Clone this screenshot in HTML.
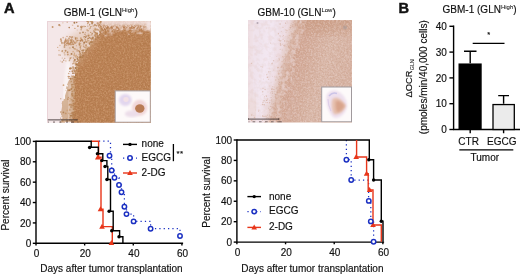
<!DOCTYPE html>
<html lang="en"><head><meta charset="utf-8"><title>Figure</title>
<style>html,body{margin:0;padding:0;background:#fff;}svg{display:block;}text{stroke:#111;stroke-width:0.16px;}</style>
</head><body>
<svg width="520" height="275" viewBox="0 0 520 275" font-family='"Liberation Sans", sans-serif' fill="#111">
<defs>
<filter id="nzA" x="0" y="0" width="100%" height="100%">
  <feTurbulence type="fractalNoise" baseFrequency="0.55" numOctaves="2" seed="3"/>
  <feColorMatrix type="matrix" values="0 0 0 0 0  0 0 0 0 0  0 0 0 0 0  5 0 0 0 -2.3" result="m"/>
  <feComposite in="SourceGraphic" in2="m" operator="in"/>
</filter>
<filter id="nzB" x="0" y="0" width="100%" height="100%">
  <feTurbulence type="fractalNoise" baseFrequency="0.6" numOctaves="2" seed="17"/>
  <feColorMatrix type="matrix" values="0 0 0 0 0  0 0 0 0 0  0 0 0 0 0  0 5 0 0 -2.3" result="m"/>
  <feComposite in="SourceGraphic" in2="m" operator="in"/>
</filter>
<filter id="nzC" x="0" y="0" width="100%" height="100%">
  <feTurbulence type="fractalNoise" baseFrequency="0.22" numOctaves="2" seed="29"/>
  <feColorMatrix type="matrix" values="0 0 0 0 0  0 0 0 0 0  0 0 0 0 0  4 0 0 0 -1.8" result="m"/>
  <feComposite in="SourceGraphic" in2="m" operator="in"/>
</filter>
<filter id="rough" x="-5%" y="-5%" width="110%" height="110%">
  <feTurbulence type="fractalNoise" baseFrequency="0.14" numOctaves="3" seed="11" result="n"/>
  <feDisplacementMap in="SourceGraphic" in2="n" scale="5" xChannelSelector="R" yChannelSelector="G" result="o"/>
  <feGaussianBlur in="o" stdDeviation="0.6"/>
</filter>
<filter id="b1"><feGaussianBlur stdDeviation="1.2"/></filter>
<filter id="b03"><feGaussianBlur stdDeviation="0.35"/></filter>
<filter id="b05"><feGaussianBlur stdDeviation="0.5"/></filter>
<filter id="b3"><feGaussianBlur stdDeviation="3"/></filter>
<filter id="b6"><feGaussianBlur stdDeviation="6"/></filter>
<linearGradient id="g2" gradientUnits="userSpaceOnUse" x1="267.9" y1="67.5" x2="349.3" y2="88.3">
  <stop offset="0" stop-color="#f0e3ec"/>
  <stop offset="0.10" stop-color="#eeddE3"/>
  <stop offset="0.15" stop-color="#e6cfcb"/>
  <stop offset="0.20" stop-color="#dab7a8"/>
  <stop offset="0.30" stop-color="#d3a997"/>
  <stop offset="0.42" stop-color="#d5ae9d"/>
  <stop offset="0.64" stop-color="#dab9aa"/>
  <stop offset="1" stop-color="#d7b3a3"/>
</linearGradient>
<clipPath id="c1"><rect x="47" y="21" width="103.8" height="101.8"/></clipPath>
<clipPath id="c2"><rect x="248" y="20" width="104" height="102.4"/></clipPath>
</defs>
<g clip-path="url(#c1)">
<rect x="47" y="21" width="104" height="102" fill="#f4e7e8"/>
<path d="M47.4 123 V21.4 H151" stroke="#e6cfd4" stroke-width="0.9" fill="none"/>
<path d="M69 60 C67 75 66 90 64 105" stroke="#fbf5f5" stroke-width="5" fill="none" filter="url(#b1)" opacity="0.9"/>
<path d="M60 122 C61 110 63 100 66.5 90 C68 84 70 80 72 76 L76 76 L76 122 Z" fill="#c79a72" filter="url(#rough)" opacity="0.7"/>
<path d="M70.3 84 C69.5 95 69 108 68.4 122" stroke="#f0dcd4" stroke-width="1.5" fill="none" filter="url(#b1)" opacity="0.9"/>
<path d="M98.5 16 L99.5 21 L100.0 30 L99.5 34 L95.0 39 L90.5 44.5 L86.0 50 L83.0 54.6 L79.5 60 L77.0 65 L75.8 70 L75.0 75 L74.0 85 L73.6 96 L73.0 108 L72.5 117 L72.0 127 L156 127 L156 16 Z" fill="#bb8256" filter="url(#rough)"/>
<path d="M98.5 16 L99.5 21 L100.0 30 L99.5 34 L95.0 39 L90.5 44.5 L86.0 50 L83.0 54.6 L79.5 60 L77.0 65 L75.8 70 L75.0 75 L74.0 85 L73.6 96 L73.0 108 L72.5 117 L72.0 127 L156 127 L156 16 Z" fill="#d6a97f" filter="url(#nzA)" opacity="0.4"/>
<path d="M98.5 16 L99.5 21 L100.0 30 L99.5 34 L95.0 39 L90.5 44.5 L86.0 50 L83.0 54.6 L79.5 60 L77.0 65 L75.8 70 L75.0 75 L74.0 85 L73.6 96 L73.0 108 L72.5 117 L72.0 127 L156 127 L156 16 Z" fill="#a8703f" filter="url(#nzB)" opacity="0.4"/>
<path d="M96 19 L152 19 L152 24.5 C135 26 115 26 96 25 Z" fill="#f1dfdc" filter="url(#b1)" opacity="0.85"/>
<path d="M92 21 L151 21 L151 33 C135 35 112 35 92 38 Z" fill="#f0dcd6" filter="url(#nzC)" opacity="0.6"/>
<path d="M92 21 L151 21 L151 29 L92 31 Z" fill="#f0dcd6" filter="url(#nzA)" opacity="0.6"/>
<ellipse cx="149" cy="26" rx="3.2" ry="5" fill="#f4e6e6" filter="url(#b1)" opacity="0.9"/>
<path d="M62 52 C62 40 74 30 98 24 L98 40 C90 48 84 56 80 66 Z" fill="#d9b395" filter="url(#b3)" opacity="0.45"/>
<g filter="url(#b03)"><circle cx="95.3" cy="32.4" r="0.75" fill="#b98558" opacity="0.81"/><circle cx="95.7" cy="39.7" r="0.59" fill="#a97748" opacity="0.97"/><circle cx="83.5" cy="55.8" r="0.88" fill="#a97748" opacity="0.60"/><circle cx="79.6" cy="52.6" r="0.49" fill="#a97748" opacity="0.62"/><circle cx="77.0" cy="69.4" r="0.53" fill="#c4956b" opacity="0.72"/><circle cx="94.9" cy="24.6" r="0.79" fill="#c4956b" opacity="0.82"/><circle cx="72.3" cy="118.0" r="0.53" fill="#cfa47c" opacity="0.73"/><circle cx="72.3" cy="100.0" r="0.54" fill="#a97748" opacity="0.99"/><circle cx="69.7" cy="76.5" r="0.58" fill="#a97748" opacity="0.92"/><circle cx="70.0" cy="89.8" r="0.98" fill="#c4956b" opacity="0.85"/><circle cx="79.1" cy="57.8" r="0.61" fill="#cfa47c" opacity="0.88"/><circle cx="87.9" cy="26.1" r="0.59" fill="#a97748" opacity="0.73"/><circle cx="88.5" cy="47.6" r="0.75" fill="#b98558" opacity="0.76"/><circle cx="95.8" cy="37.2" r="0.45" fill="#cfa47c" opacity="0.61"/><circle cx="68.4" cy="90.2" r="0.95" fill="#a97748" opacity="0.66"/><circle cx="69.2" cy="60.7" r="0.56" fill="#a97748" opacity="0.80"/><circle cx="76.5" cy="41.9" r="0.88" fill="#cfa47c" opacity="0.82"/><circle cx="87.2" cy="21.3" r="0.81" fill="#a97748" opacity="0.95"/><circle cx="70.1" cy="98.4" r="0.76" fill="#cfa47c" opacity="0.92"/><circle cx="66.3" cy="118.6" r="0.51" fill="#c4956b" opacity="0.80"/><circle cx="80.4" cy="40.7" r="0.94" fill="#b98558" opacity="0.99"/><circle cx="60.7" cy="118.2" r="0.66" fill="#b98558" opacity="0.70"/><circle cx="82.4" cy="40.7" r="0.95" fill="#b98558" opacity="0.84"/><circle cx="74.9" cy="28.4" r="0.71" fill="#cfa47c" opacity="0.99"/><circle cx="72.2" cy="107.4" r="0.52" fill="#c4956b" opacity="0.59"/><circle cx="67.2" cy="110.4" r="0.91" fill="#cfa47c" opacity="0.98"/><circle cx="71.8" cy="118.6" r="0.59" fill="#cfa47c" opacity="0.80"/><circle cx="98.6" cy="26.7" r="0.66" fill="#b98558" opacity="0.71"/><circle cx="75.4" cy="78.4" r="0.78" fill="#cfa47c" opacity="0.73"/><circle cx="74.0" cy="95.9" r="0.79" fill="#c4956b" opacity="0.72"/><circle cx="72.9" cy="76.8" r="0.79" fill="#cfa47c" opacity="0.64"/><circle cx="73.8" cy="94.1" r="0.63" fill="#b98558" opacity="0.59"/><circle cx="84.3" cy="53.7" r="0.66" fill="#c4956b" opacity="0.63"/><circle cx="83.7" cy="46.4" r="0.85" fill="#b98558" opacity="0.61"/><circle cx="97.9" cy="37.1" r="0.88" fill="#a97748" opacity="0.90"/><circle cx="94.2" cy="31.7" r="0.89" fill="#b98558" opacity="0.76"/><circle cx="67.7" cy="120.9" r="0.64" fill="#a97748" opacity="0.60"/><circle cx="74.5" cy="105.7" r="0.58" fill="#cfa47c" opacity="0.74"/><circle cx="74.3" cy="110.4" r="0.94" fill="#cfa47c" opacity="0.70"/><circle cx="90.9" cy="38.2" r="0.90" fill="#a97748" opacity="0.65"/><circle cx="99.9" cy="32.0" r="0.72" fill="#a97748" opacity="0.59"/><circle cx="100.4" cy="33.5" r="0.80" fill="#b98558" opacity="0.96"/><circle cx="99.9" cy="25.1" r="0.69" fill="#a97748" opacity="0.62"/><circle cx="91.7" cy="44.4" r="0.83" fill="#cfa47c" opacity="0.79"/><circle cx="76.5" cy="66.9" r="0.90" fill="#c4956b" opacity="0.85"/><circle cx="67.2" cy="22.3" r="0.71" fill="#c4956b" opacity="0.64"/><circle cx="84.9" cy="52.8" r="0.83" fill="#b98558" opacity="0.89"/><circle cx="73.3" cy="100.0" r="0.60" fill="#c4956b" opacity="0.58"/><circle cx="70.9" cy="68.5" r="0.86" fill="#c4956b" opacity="0.89"/><circle cx="62.4" cy="50.8" r="0.77" fill="#b98558" opacity="0.65"/><circle cx="71.6" cy="84.8" r="0.84" fill="#c4956b" opacity="0.65"/><circle cx="97.1" cy="35.8" r="0.83" fill="#b98558" opacity="0.98"/><circle cx="84.5" cy="47.2" r="0.52" fill="#a97748" opacity="0.62"/><circle cx="80.6" cy="43.4" r="0.69" fill="#cfa47c" opacity="0.84"/><circle cx="90.5" cy="45.7" r="0.58" fill="#cfa47c" opacity="1.00"/><circle cx="62.2" cy="58.0" r="0.52" fill="#b98558" opacity="0.73"/><circle cx="73.6" cy="112.5" r="0.72" fill="#a97748" opacity="0.66"/><circle cx="100.7" cy="27.4" r="0.70" fill="#cfa47c" opacity="0.95"/><circle cx="95.3" cy="32.6" r="0.70" fill="#a97748" opacity="0.85"/><circle cx="77.7" cy="57.2" r="0.78" fill="#cfa47c" opacity="0.78"/><circle cx="87.7" cy="41.6" r="0.78" fill="#cfa47c" opacity="0.77"/><circle cx="75.2" cy="91.3" r="0.77" fill="#c4956b" opacity="0.91"/><circle cx="92.5" cy="22.2" r="0.91" fill="#a97748" opacity="0.85"/><circle cx="74.1" cy="90.7" r="0.81" fill="#a97748" opacity="0.79"/><circle cx="91.4" cy="39.6" r="0.59" fill="#c4956b" opacity="0.70"/><circle cx="71.1" cy="99.8" r="0.54" fill="#a97748" opacity="0.93"/><circle cx="74.4" cy="71.9" r="0.64" fill="#cfa47c" opacity="0.92"/><circle cx="75.7" cy="82.4" r="0.73" fill="#cfa47c" opacity="0.62"/><circle cx="81.2" cy="27.5" r="0.96" fill="#b98558" opacity="0.75"/><circle cx="72.1" cy="88.4" r="0.96" fill="#c4956b" opacity="0.62"/><circle cx="80.9" cy="38.3" r="0.93" fill="#cfa47c" opacity="1.00"/><circle cx="75.8" cy="75.2" r="0.67" fill="#a97748" opacity="0.96"/><circle cx="75.9" cy="78.2" r="0.48" fill="#c4956b" opacity="0.73"/><circle cx="77.0" cy="40.3" r="0.61" fill="#c4956b" opacity="0.79"/><circle cx="59.2" cy="24.9" r="0.98" fill="#b98558" opacity="0.94"/><circle cx="70.0" cy="104.4" r="0.86" fill="#c4956b" opacity="0.94"/><circle cx="79.4" cy="44.4" r="0.83" fill="#a97748" opacity="0.80"/><circle cx="72.7" cy="67.1" r="0.80" fill="#c4956b" opacity="0.69"/><circle cx="72.9" cy="91.7" r="0.82" fill="#cfa47c" opacity="0.91"/><circle cx="69.9" cy="109.9" r="0.73" fill="#a97748" opacity="0.75"/><circle cx="73.5" cy="105.3" r="0.47" fill="#cfa47c" opacity="0.91"/><circle cx="73.4" cy="109.0" r="0.83" fill="#c4956b" opacity="0.90"/><circle cx="74.3" cy="86.8" r="0.49" fill="#c4956b" opacity="0.71"/><circle cx="83.2" cy="44.8" r="0.51" fill="#a97748" opacity="0.59"/><circle cx="71.7" cy="57.6" r="0.47" fill="#b98558" opacity="0.74"/><circle cx="74.0" cy="103.0" r="0.47" fill="#a97748" opacity="0.89"/><circle cx="76.2" cy="77.7" r="0.85" fill="#b98558" opacity="0.74"/><circle cx="79.1" cy="60.6" r="0.66" fill="#cfa47c" opacity="0.87"/><circle cx="101.3" cy="31.0" r="0.80" fill="#a97748" opacity="0.69"/><circle cx="76.5" cy="73.8" r="0.79" fill="#b98558" opacity="0.93"/><circle cx="96.3" cy="29.8" r="0.78" fill="#c4956b" opacity="0.60"/><circle cx="73.7" cy="83.9" r="0.49" fill="#a97748" opacity="0.89"/><circle cx="80.4" cy="56.9" r="0.99" fill="#a97748" opacity="0.99"/><circle cx="92.7" cy="37.1" r="0.46" fill="#b98558" opacity="0.83"/><circle cx="77.2" cy="29.9" r="0.52" fill="#cfa47c" opacity="0.69"/><circle cx="91.6" cy="21.7" r="0.65" fill="#b98558" opacity="0.82"/><circle cx="71.6" cy="95.8" r="0.84" fill="#cfa47c" opacity="0.67"/><circle cx="85.6" cy="37.6" r="0.73" fill="#b98558" opacity="0.95"/><circle cx="71.5" cy="53.9" r="0.94" fill="#a97748" opacity="0.88"/><circle cx="82.3" cy="52.3" r="0.67" fill="#a97748" opacity="0.56"/><circle cx="98.8" cy="25.5" r="0.80" fill="#cfa47c" opacity="0.72"/><circle cx="84.2" cy="42.4" r="0.97" fill="#a97748" opacity="0.94"/><circle cx="67.6" cy="39.7" r="0.50" fill="#cfa47c" opacity="0.86"/><circle cx="72.2" cy="104.1" r="0.55" fill="#b98558" opacity="0.92"/><circle cx="71.9" cy="44.2" r="0.94" fill="#b98558" opacity="0.60"/><circle cx="74.9" cy="59.7" r="0.99" fill="#b98558" opacity="0.94"/><circle cx="72.2" cy="95.6" r="0.57" fill="#cfa47c" opacity="0.82"/><circle cx="87.5" cy="49.6" r="0.59" fill="#a97748" opacity="0.69"/><circle cx="74.6" cy="85.2" r="0.68" fill="#b98558" opacity="0.78"/><circle cx="73.1" cy="76.1" r="0.63" fill="#cfa47c" opacity="0.78"/><circle cx="94.4" cy="35.2" r="0.69" fill="#a97748" opacity="0.74"/><circle cx="82.5" cy="55.7" r="0.99" fill="#a97748" opacity="0.64"/><circle cx="74.2" cy="85.7" r="0.94" fill="#cfa47c" opacity="0.67"/><circle cx="99.5" cy="34.5" r="0.55" fill="#a97748" opacity="0.92"/><circle cx="74.7" cy="71.1" r="0.51" fill="#a97748" opacity="0.87"/><circle cx="84.0" cy="43.7" r="0.61" fill="#a97748" opacity="0.85"/><circle cx="69.9" cy="101.0" r="0.81" fill="#cfa47c" opacity="0.70"/><circle cx="78.9" cy="56.9" r="0.51" fill="#c4956b" opacity="0.71"/><circle cx="71.9" cy="76.1" r="0.92" fill="#b98558" opacity="0.56"/><circle cx="85.0" cy="34.3" r="0.74" fill="#c4956b" opacity="0.99"/><circle cx="63.7" cy="60.2" r="0.65" fill="#a97748" opacity="0.83"/><circle cx="81.4" cy="50.4" r="0.57" fill="#c4956b" opacity="0.95"/><circle cx="80.5" cy="55.2" r="0.47" fill="#a97748" opacity="0.88"/><circle cx="71.3" cy="105.0" r="0.89" fill="#c4956b" opacity="0.99"/><circle cx="95.4" cy="36.5" r="0.96" fill="#b98558" opacity="0.89"/><circle cx="87.8" cy="46.9" r="0.55" fill="#cfa47c" opacity="0.97"/><circle cx="75.8" cy="68.1" r="0.85" fill="#a97748" opacity="0.96"/><circle cx="70.9" cy="82.1" r="0.68" fill="#cfa47c" opacity="0.81"/><circle cx="85.4" cy="47.6" r="0.48" fill="#b98558" opacity="0.64"/><circle cx="77.2" cy="69.0" r="0.85" fill="#b98558" opacity="0.81"/><circle cx="100.4" cy="31.8" r="0.84" fill="#b98558" opacity="0.98"/><circle cx="59.0" cy="54.9" r="0.72" fill="#b98558" opacity="0.67"/><circle cx="81.2" cy="52.0" r="0.75" fill="#cfa47c" opacity="0.67"/><circle cx="80.5" cy="59.2" r="0.82" fill="#b98558" opacity="0.88"/><circle cx="97.4" cy="33.8" r="0.71" fill="#a97748" opacity="0.88"/><circle cx="87.5" cy="48.4" r="0.52" fill="#a97748" opacity="0.79"/><circle cx="88.4" cy="38.4" r="0.53" fill="#b98558" opacity="0.97"/><circle cx="79.5" cy="51.9" r="0.59" fill="#b98558" opacity="0.62"/><circle cx="71.3" cy="89.0" r="0.91" fill="#a97748" opacity="0.73"/><circle cx="83.0" cy="32.3" r="0.86" fill="#a97748" opacity="0.84"/><circle cx="95.0" cy="33.6" r="0.48" fill="#c4956b" opacity="0.93"/><circle cx="74.2" cy="86.8" r="0.91" fill="#cfa47c" opacity="0.81"/><circle cx="74.1" cy="97.5" r="0.56" fill="#cfa47c" opacity="0.78"/><circle cx="70.2" cy="78.4" r="0.92" fill="#b98558" opacity="0.97"/><circle cx="69.7" cy="114.5" r="0.63" fill="#cfa47c" opacity="0.63"/><circle cx="101.4" cy="29.7" r="0.80" fill="#c4956b" opacity="0.62"/><circle cx="79.5" cy="51.3" r="0.87" fill="#a97748" opacity="0.87"/><circle cx="74.0" cy="87.5" r="0.90" fill="#c4956b" opacity="0.75"/><circle cx="87.5" cy="39.9" r="0.65" fill="#c4956b" opacity="0.75"/><circle cx="72.6" cy="112.8" r="0.66" fill="#b98558" opacity="0.60"/><circle cx="70.6" cy="79.1" r="0.68" fill="#a97748" opacity="0.85"/><circle cx="74.7" cy="80.1" r="0.50" fill="#c4956b" opacity="0.74"/><circle cx="71.9" cy="121.2" r="0.52" fill="#b98558" opacity="0.64"/><circle cx="83.2" cy="49.9" r="0.56" fill="#b98558" opacity="0.88"/><circle cx="75.7" cy="79.1" r="0.70" fill="#b98558" opacity="0.94"/><circle cx="73.5" cy="78.7" r="0.54" fill="#b98558" opacity="0.73"/><circle cx="75.5" cy="75.3" r="0.74" fill="#a97748" opacity="0.71"/><circle cx="91.8" cy="34.7" r="0.97" fill="#c4956b" opacity="0.58"/><circle cx="70.2" cy="113.7" r="0.56" fill="#b98558" opacity="0.77"/><circle cx="87.7" cy="23.7" r="0.59" fill="#b98558" opacity="0.88"/><circle cx="97.2" cy="29.5" r="0.89" fill="#c4956b" opacity="0.70"/><circle cx="92.0" cy="43.1" r="0.82" fill="#cfa47c" opacity="0.58"/><circle cx="95.4" cy="35.2" r="0.98" fill="#cfa47c" opacity="0.94"/><circle cx="100.5" cy="32.4" r="0.47" fill="#a97748" opacity="0.80"/><circle cx="76.6" cy="61.5" r="0.59" fill="#b98558" opacity="0.58"/><circle cx="76.3" cy="61.8" r="0.81" fill="#c4956b" opacity="0.83"/><circle cx="80.5" cy="48.9" r="0.84" fill="#c4956b" opacity="0.72"/><circle cx="71.2" cy="120.2" r="0.64" fill="#a97748" opacity="0.79"/><circle cx="87.7" cy="38.5" r="0.76" fill="#c4956b" opacity="0.88"/><circle cx="93.7" cy="38.0" r="0.48" fill="#c4956b" opacity="0.94"/><circle cx="73.1" cy="104.3" r="0.98" fill="#b98558" opacity="0.72"/><circle cx="73.0" cy="105.7" r="0.88" fill="#a97748" opacity="0.75"/><circle cx="92.9" cy="38.9" r="0.76" fill="#c4956b" opacity="0.64"/><circle cx="68.3" cy="97.4" r="0.64" fill="#b98558" opacity="0.83"/><circle cx="74.4" cy="96.3" r="0.48" fill="#b98558" opacity="0.66"/><circle cx="74.7" cy="55.3" r="0.88" fill="#cfa47c" opacity="0.71"/><circle cx="82.5" cy="56.8" r="0.81" fill="#c4956b" opacity="0.71"/><circle cx="62.3" cy="61.9" r="0.90" fill="#c4956b" opacity="0.63"/><circle cx="73.5" cy="103.5" r="0.70" fill="#b98558" opacity="0.92"/><circle cx="79.4" cy="45.4" r="0.72" fill="#cfa47c" opacity="0.76"/><circle cx="72.1" cy="39.8" r="0.88" fill="#c4956b" opacity="0.67"/><circle cx="72.4" cy="112.9" r="0.87" fill="#b98558" opacity="0.77"/><circle cx="75.4" cy="72.2" r="0.80" fill="#c4956b" opacity="0.93"/><circle cx="72.0" cy="94.2" r="0.90" fill="#a97748" opacity="0.60"/><circle cx="86.0" cy="41.7" r="0.93" fill="#c4956b" opacity="0.99"/><circle cx="69.9" cy="68.5" r="0.93" fill="#b98558" opacity="0.97"/><circle cx="82.0" cy="56.1" r="0.55" fill="#b98558" opacity="0.78"/><circle cx="79.0" cy="62.2" r="0.68" fill="#a97748" opacity="0.97"/><circle cx="75.6" cy="81.6" r="0.48" fill="#c4956b" opacity="0.66"/><circle cx="100.8" cy="26.6" r="0.71" fill="#b98558" opacity="0.88"/><circle cx="85.6" cy="47.9" r="0.89" fill="#c4956b" opacity="0.61"/><circle cx="75.5" cy="56.4" r="0.91" fill="#cfa47c" opacity="0.80"/><circle cx="74.7" cy="101.7" r="0.70" fill="#cfa47c" opacity="0.90"/><circle cx="76.6" cy="70.5" r="0.52" fill="#c4956b" opacity="0.81"/><circle cx="89.6" cy="35.4" r="0.98" fill="#cfa47c" opacity="0.73"/><circle cx="73.9" cy="76.5" r="0.66" fill="#a97748" opacity="0.97"/><circle cx="73.7" cy="67.9" r="0.87" fill="#c4956b" opacity="0.79"/><circle cx="80.0" cy="60.0" r="0.99" fill="#c4956b" opacity="0.82"/><circle cx="62.9" cy="22.8" r="0.59" fill="#cfa47c" opacity="0.80"/><circle cx="86.6" cy="45.0" r="0.49" fill="#cfa47c" opacity="0.87"/><circle cx="92.1" cy="23.5" r="0.98" fill="#a97748" opacity="0.79"/><circle cx="72.3" cy="95.1" r="0.89" fill="#c4956b" opacity="0.67"/><circle cx="75.9" cy="57.6" r="0.50" fill="#c4956b" opacity="0.64"/><circle cx="73.5" cy="106.2" r="0.82" fill="#c4956b" opacity="0.85"/><circle cx="89.2" cy="43.1" r="0.50" fill="#b98558" opacity="0.78"/><circle cx="89.7" cy="24.5" r="0.75" fill="#cfa47c" opacity="0.89"/><circle cx="90.7" cy="42.0" r="0.94" fill="#c4956b" opacity="0.93"/><circle cx="87.2" cy="48.2" r="0.50" fill="#c4956b" opacity="0.63"/><circle cx="64.4" cy="52.8" r="0.88" fill="#cfa47c" opacity="0.69"/><circle cx="76.3" cy="70.4" r="0.86" fill="#b98558" opacity="0.91"/><circle cx="86.2" cy="49.8" r="0.91" fill="#cfa47c" opacity="0.87"/><circle cx="90.7" cy="32.4" r="0.69" fill="#c4956b" opacity="0.90"/><circle cx="91.5" cy="39.2" r="0.60" fill="#c4956b" opacity="0.57"/><circle cx="78.5" cy="60.3" r="0.80" fill="#c4956b" opacity="0.84"/><circle cx="69.5" cy="121.7" r="0.47" fill="#a97748" opacity="0.89"/><circle cx="96.8" cy="34.1" r="0.58" fill="#cfa47c" opacity="0.84"/><circle cx="68.9" cy="113.3" r="0.83" fill="#cfa47c" opacity="0.92"/><circle cx="76.7" cy="22.5" r="0.73" fill="#a97748" opacity="0.89"/><circle cx="70.1" cy="117.6" r="0.99" fill="#c4956b" opacity="0.76"/><circle cx="91.0" cy="42.3" r="0.83" fill="#b98558" opacity="0.71"/><circle cx="63.5" cy="85.2" r="0.88" fill="#cfa47c" opacity="0.94"/><circle cx="85.0" cy="50.1" r="1.00" fill="#cfa47c" opacity="0.76"/><circle cx="70.4" cy="58.2" r="0.94" fill="#c4956b" opacity="0.93"/><circle cx="79.6" cy="56.2" r="0.65" fill="#b98558" opacity="0.77"/><circle cx="65.9" cy="60.9" r="0.62" fill="#cfa47c" opacity="0.86"/><circle cx="86.0" cy="45.1" r="0.89" fill="#b98558" opacity="0.74"/><circle cx="92.8" cy="37.7" r="0.99" fill="#a97748" opacity="0.87"/><circle cx="72.1" cy="95.2" r="0.52" fill="#c4956b" opacity="0.88"/><circle cx="94.0" cy="38.7" r="0.81" fill="#c4956b" opacity="0.68"/><circle cx="74.6" cy="77.2" r="0.89" fill="#a97748" opacity="0.62"/><circle cx="86.9" cy="47.4" r="0.97" fill="#cfa47c" opacity="0.65"/><circle cx="79.4" cy="42.9" r="0.62" fill="#c4956b" opacity="0.98"/><circle cx="73.4" cy="76.2" r="0.82" fill="#cfa47c" opacity="0.88"/><circle cx="69.7" cy="59.9" r="0.58" fill="#a97748" opacity="0.72"/><circle cx="71.6" cy="113.3" r="0.86" fill="#b98558" opacity="0.64"/><circle cx="79.6" cy="44.8" r="0.62" fill="#a97748" opacity="0.56"/><circle cx="84.0" cy="26.4" r="0.88" fill="#c4956b" opacity="0.72"/><circle cx="73.3" cy="103.3" r="0.49" fill="#a97748" opacity="0.82"/><circle cx="77.3" cy="63.7" r="0.64" fill="#b98558" opacity="0.60"/><circle cx="64.5" cy="47.0" r="0.96" fill="#a97748" opacity="0.60"/><circle cx="69.9" cy="47.9" r="0.60" fill="#c4956b" opacity="0.89"/><circle cx="99.8" cy="31.3" r="0.63" fill="#b98558" opacity="0.97"/><circle cx="93.7" cy="42.4" r="0.74" fill="#c4956b" opacity="0.73"/><circle cx="72.6" cy="114.1" r="0.77" fill="#b98558" opacity="0.71"/><circle cx="76.8" cy="63.6" r="0.83" fill="#cfa47c" opacity="0.71"/><circle cx="73.3" cy="112.3" r="0.84" fill="#b98558" opacity="0.68"/><circle cx="80.3" cy="45.1" r="0.78" fill="#cfa47c" opacity="0.57"/><circle cx="65.6" cy="50.8" r="0.97" fill="#b98558" opacity="0.84"/><circle cx="82.3" cy="57.0" r="0.95" fill="#b98558" opacity="0.96"/><circle cx="79.6" cy="61.8" r="0.64" fill="#c4956b" opacity="0.89"/><circle cx="95.6" cy="29.0" r="0.76" fill="#b98558" opacity="0.89"/><circle cx="60.3" cy="61.1" r="0.48" fill="#cfa47c" opacity="0.95"/><circle cx="74.5" cy="60.7" r="0.99" fill="#a97748" opacity="0.57"/><circle cx="70.1" cy="108.8" r="0.51" fill="#c4956b" opacity="0.56"/><circle cx="100.4" cy="22.4" r="0.90" fill="#cfa47c" opacity="0.97"/><circle cx="72.5" cy="112.5" r="0.75" fill="#b98558" opacity="0.84"/><circle cx="80.0" cy="33.1" r="0.79" fill="#a97748" opacity="0.78"/><circle cx="83.0" cy="50.3" r="0.86" fill="#a97748" opacity="0.95"/><circle cx="93.7" cy="30.4" r="0.76" fill="#c4956b" opacity="0.64"/><circle cx="81.6" cy="27.7" r="0.85" fill="#b98558" opacity="0.81"/><circle cx="72.2" cy="91.7" r="0.66" fill="#a97748" opacity="0.66"/><circle cx="80.7" cy="54.9" r="0.98" fill="#b98558" opacity="0.57"/><circle cx="72.4" cy="119.5" r="0.63" fill="#c4956b" opacity="0.99"/><circle cx="98.4" cy="30.2" r="0.82" fill="#c4956b" opacity="0.58"/><circle cx="72.7" cy="93.5" r="0.82" fill="#c4956b" opacity="0.75"/><circle cx="81.2" cy="54.7" r="0.70" fill="#b98558" opacity="0.58"/><circle cx="72.1" cy="78.7" r="0.82" fill="#b98558" opacity="0.90"/><circle cx="95.3" cy="38.7" r="0.49" fill="#cfa47c" opacity="0.78"/><circle cx="85.3" cy="32.4" r="0.47" fill="#a97748" opacity="0.97"/><circle cx="88.3" cy="35.8" r="0.93" fill="#b98558" opacity="0.91"/><circle cx="72.8" cy="90.9" r="0.70" fill="#c4956b" opacity="0.76"/><circle cx="94.5" cy="28.4" r="0.84" fill="#cfa47c" opacity="0.58"/><circle cx="73.5" cy="58.0" r="0.61" fill="#a97748" opacity="0.81"/><circle cx="81.7" cy="39.7" r="1.00" fill="#b98558" opacity="0.98"/><circle cx="74.3" cy="99.6" r="0.51" fill="#cfa47c" opacity="0.62"/><circle cx="73.4" cy="120.1" r="0.79" fill="#c4956b" opacity="0.56"/><circle cx="67.5" cy="52.2" r="0.74" fill="#a97748" opacity="0.99"/><circle cx="74.8" cy="89.0" r="0.99" fill="#c4956b" opacity="0.94"/><circle cx="75.1" cy="49.0" r="0.90" fill="#cfa47c" opacity="0.86"/><circle cx="93.3" cy="40.3" r="0.52" fill="#c4956b" opacity="0.90"/><circle cx="93.4" cy="39.6" r="0.56" fill="#cfa47c" opacity="0.61"/><circle cx="79.6" cy="52.3" r="0.54" fill="#cfa47c" opacity="0.56"/><circle cx="85.5" cy="39.8" r="0.63" fill="#a97748" opacity="0.80"/><circle cx="74.7" cy="100.0" r="0.90" fill="#cfa47c" opacity="0.75"/><circle cx="82.7" cy="51.8" r="0.48" fill="#b98558" opacity="0.97"/><circle cx="95.7" cy="33.2" r="0.69" fill="#c4956b" opacity="0.99"/><circle cx="90.2" cy="28.1" r="0.60" fill="#a97748" opacity="0.79"/><circle cx="98.0" cy="22.7" r="0.62" fill="#b98558" opacity="0.63"/><circle cx="62.7" cy="121.1" r="0.98" fill="#c4956b" opacity="0.89"/><circle cx="74.0" cy="48.6" r="0.71" fill="#a97748" opacity="0.63"/><circle cx="91.3" cy="41.4" r="0.78" fill="#c4956b" opacity="0.90"/><circle cx="86.5" cy="42.3" r="0.53" fill="#a97748" opacity="0.65"/><circle cx="73.0" cy="117.2" r="0.80" fill="#b98558" opacity="0.87"/><circle cx="83.4" cy="52.3" r="0.70" fill="#cfa47c" opacity="0.94"/><circle cx="73.5" cy="115.2" r="0.89" fill="#a97748" opacity="0.66"/><circle cx="73.0" cy="47.2" r="0.88" fill="#a97748" opacity="0.98"/><circle cx="97.4" cy="34.1" r="0.94" fill="#b98558" opacity="0.65"/><circle cx="85.3" cy="26.6" r="0.52" fill="#a97748" opacity="0.89"/><circle cx="74.3" cy="95.2" r="0.88" fill="#c4956b" opacity="0.71"/><circle cx="70.2" cy="119.3" r="0.70" fill="#c4956b" opacity="0.88"/><circle cx="91.7" cy="22.0" r="0.98" fill="#c4956b" opacity="0.77"/><circle cx="71.7" cy="54.0" r="0.61" fill="#b98558" opacity="0.73"/><circle cx="80.6" cy="53.7" r="0.97" fill="#c4956b" opacity="0.72"/><circle cx="74.7" cy="77.3" r="0.95" fill="#a97748" opacity="0.98"/><circle cx="91.1" cy="26.4" r="0.70" fill="#cfa47c" opacity="0.92"/><circle cx="74.0" cy="68.1" r="0.56" fill="#b98558" opacity="0.67"/><circle cx="67.9" cy="52.0" r="0.72" fill="#cfa47c" opacity="0.71"/><circle cx="77.2" cy="57.1" r="0.68" fill="#cfa47c" opacity="0.86"/><circle cx="59.0" cy="50.6" r="0.73" fill="#cfa47c" opacity="0.73"/><circle cx="95.7" cy="34.6" r="0.90" fill="#b98558" opacity="0.95"/><circle cx="72.0" cy="84.8" r="0.83" fill="#a97748" opacity="0.62"/><circle cx="67.9" cy="43.7" r="0.55" fill="#b98558" opacity="0.91"/><circle cx="79.4" cy="54.6" r="0.94" fill="#b98558" opacity="0.57"/><circle cx="69.5" cy="120.2" r="0.91" fill="#a97748" opacity="0.56"/><circle cx="74.8" cy="71.4" r="0.90" fill="#cfa47c" opacity="0.58"/><circle cx="77.5" cy="61.2" r="0.80" fill="#b98558" opacity="0.80"/><circle cx="77.2" cy="56.6" r="0.53" fill="#a97748" opacity="0.67"/><circle cx="90.5" cy="27.0" r="0.77" fill="#c4956b" opacity="0.86"/><circle cx="71.1" cy="44.9" r="0.45" fill="#c4956b" opacity="0.71"/><circle cx="74.2" cy="54.3" r="0.64" fill="#cfa47c" opacity="0.99"/><circle cx="72.8" cy="64.2" r="0.46" fill="#cfa47c" opacity="0.66"/><circle cx="75.2" cy="63.2" r="0.87" fill="#cfa47c" opacity="0.97"/><circle cx="68.3" cy="76.4" r="0.77" fill="#b98558" opacity="0.86"/><circle cx="68.9" cy="105.0" r="0.67" fill="#cfa47c" opacity="0.84"/><circle cx="72.6" cy="101.5" r="0.66" fill="#c4956b" opacity="0.76"/><circle cx="69.8" cy="71.6" r="0.52" fill="#a97748" opacity="1.00"/><circle cx="96.8" cy="34.0" r="0.80" fill="#b98558" opacity="0.78"/><circle cx="94.4" cy="25.4" r="0.83" fill="#a97748" opacity="0.57"/><circle cx="75.9" cy="37.6" r="0.69" fill="#a97748" opacity="0.74"/><circle cx="100.8" cy="21.7" r="0.99" fill="#b98558" opacity="0.64"/><circle cx="95.1" cy="31.9" r="0.48" fill="#cfa47c" opacity="0.57"/><circle cx="73.9" cy="60.4" r="0.46" fill="#cfa47c" opacity="0.81"/><circle cx="67.9" cy="99.1" r="0.84" fill="#b98558" opacity="0.83"/><circle cx="80.1" cy="53.4" r="0.65" fill="#a97748" opacity="0.61"/><circle cx="79.6" cy="58.5" r="0.81" fill="#c4956b" opacity="0.72"/><circle cx="70.0" cy="55.2" r="0.45" fill="#c4956b" opacity="0.71"/><circle cx="72.6" cy="25.3" r="0.82" fill="#cfa47c" opacity="0.62"/><circle cx="72.8" cy="101.5" r="0.93" fill="#c4956b" opacity="0.65"/><circle cx="92.3" cy="38.4" r="0.77" fill="#a97748" opacity="0.78"/><circle cx="98.9" cy="25.2" r="0.96" fill="#b98558" opacity="0.67"/><circle cx="90.1" cy="21.4" r="0.58" fill="#a97748" opacity="0.57"/><circle cx="82.2" cy="57.5" r="0.65" fill="#c4956b" opacity="0.60"/><circle cx="84.6" cy="36.7" r="0.60" fill="#a97748" opacity="0.84"/><circle cx="74.3" cy="69.9" r="0.79" fill="#c4956b" opacity="0.78"/><circle cx="93.3" cy="40.0" r="0.57" fill="#b98558" opacity="0.81"/><circle cx="98.3" cy="35.8" r="0.91" fill="#b98558" opacity="0.64"/><circle cx="71.0" cy="106.9" r="0.98" fill="#a97748" opacity="0.56"/><circle cx="77.9" cy="26.1" r="0.95" fill="#b98558" opacity="0.84"/><circle cx="89.4" cy="43.7" r="0.80" fill="#a97748" opacity="0.90"/><circle cx="82.1" cy="57.5" r="0.81" fill="#a97748" opacity="0.78"/><circle cx="85.6" cy="40.8" r="0.66" fill="#cfa47c" opacity="0.60"/><circle cx="72.1" cy="119.3" r="0.67" fill="#cfa47c" opacity="0.82"/><circle cx="100.6" cy="21.0" r="0.90" fill="#b98558" opacity="0.62"/><circle cx="69.8" cy="90.1" r="0.98" fill="#c4956b" opacity="0.73"/><circle cx="60.8" cy="98.8" r="0.55" fill="#a97748" opacity="0.90"/><circle cx="68.6" cy="78.0" r="0.80" fill="#c4956b" opacity="0.79"/><circle cx="99.4" cy="24.6" r="0.78" fill="#b98558" opacity="0.72"/><circle cx="73.7" cy="61.9" r="0.92" fill="#cfa47c" opacity="0.69"/><circle cx="98.2" cy="29.7" r="0.56" fill="#a97748" opacity="0.75"/><circle cx="89.3" cy="37.8" r="0.70" fill="#a97748" opacity="0.94"/><circle cx="99.7" cy="31.6" r="0.65" fill="#a97748" opacity="0.61"/><circle cx="60.0" cy="25.6" r="0.87" fill="#cfa47c" opacity="0.63"/><circle cx="71.8" cy="68.1" r="0.67" fill="#a97748" opacity="0.71"/><circle cx="76.5" cy="72.8" r="0.93" fill="#b98558" opacity="0.73"/><circle cx="73.4" cy="63.3" r="0.66" fill="#b98558" opacity="0.65"/><circle cx="84.6" cy="39.0" r="0.68" fill="#cfa47c" opacity="0.88"/><circle cx="90.2" cy="44.6" r="0.99" fill="#cfa47c" opacity="0.57"/><circle cx="74.2" cy="83.8" r="0.69" fill="#c4956b" opacity="0.96"/><circle cx="79.2" cy="62.7" r="0.78" fill="#b98558" opacity="0.75"/><circle cx="99.7" cy="31.5" r="0.55" fill="#cfa47c" opacity="0.76"/><circle cx="86.1" cy="36.3" r="0.93" fill="#a97748" opacity="0.66"/><circle cx="100.2" cy="27.4" r="0.94" fill="#c4956b" opacity="0.63"/><circle cx="95.2" cy="29.7" r="0.94" fill="#c4956b" opacity="0.89"/><circle cx="86.0" cy="52.1" r="0.64" fill="#a97748" opacity="0.74"/><circle cx="89.6" cy="25.0" r="0.56" fill="#a97748" opacity="0.72"/><circle cx="75.7" cy="64.4" r="0.99" fill="#b98558" opacity="0.74"/><circle cx="71.9" cy="105.0" r="0.70" fill="#b98558" opacity="0.71"/><circle cx="89.8" cy="44.1" r="0.69" fill="#a97748" opacity="0.73"/><circle cx="72.0" cy="93.7" r="0.76" fill="#b98558" opacity="0.77"/><circle cx="78.8" cy="60.5" r="0.77" fill="#c4956b" opacity="0.85"/><circle cx="75.7" cy="67.9" r="0.91" fill="#a97748" opacity="0.90"/><circle cx="70.5" cy="115.7" r="0.70" fill="#a97748" opacity="0.65"/><circle cx="95.5" cy="35.7" r="0.47" fill="#c4956b" opacity="0.97"/><circle cx="65.7" cy="113.4" r="0.97" fill="#c4956b" opacity="0.94"/><circle cx="73.7" cy="107.6" r="0.81" fill="#cfa47c" opacity="0.78"/><circle cx="77.3" cy="58.8" r="0.82" fill="#a97748" opacity="0.93"/><circle cx="87.9" cy="42.8" r="0.67" fill="#cfa47c" opacity="0.60"/><circle cx="72.7" cy="86.9" r="0.99" fill="#c4956b" opacity="0.94"/><circle cx="59.9" cy="45.4" r="0.73" fill="#cfa47c" opacity="0.71"/><circle cx="71.8" cy="86.7" r="0.54" fill="#c4956b" opacity="0.99"/><circle cx="95.4" cy="38.6" r="0.71" fill="#b98558" opacity="0.87"/><circle cx="97.7" cy="24.8" r="0.59" fill="#cfa47c" opacity="0.95"/><circle cx="71.6" cy="120.9" r="0.94" fill="#a97748" opacity="0.66"/><circle cx="73.2" cy="68.1" r="0.93" fill="#cfa47c" opacity="0.66"/><circle cx="73.0" cy="69.4" r="0.81" fill="#c4956b" opacity="0.62"/><circle cx="72.0" cy="116.2" r="1.00" fill="#b98558" opacity="0.65"/><circle cx="91.7" cy="39.0" r="0.96" fill="#c4956b" opacity="0.64"/><circle cx="91.6" cy="22.7" r="0.86" fill="#c4956b" opacity="0.59"/><circle cx="64.9" cy="54.8" r="0.64" fill="#a97748" opacity="0.65"/><circle cx="98.1" cy="23.6" r="0.59" fill="#a97748" opacity="0.81"/><circle cx="73.4" cy="107.8" r="0.82" fill="#c4956b" opacity="0.99"/><circle cx="73.6" cy="112.9" r="0.75" fill="#b98558" opacity="0.72"/><circle cx="86.4" cy="50.5" r="0.81" fill="#a97748" opacity="0.76"/><circle cx="72.8" cy="63.7" r="0.67" fill="#b98558" opacity="0.64"/><circle cx="96.4" cy="25.6" r="0.93" fill="#b98558" opacity="0.78"/><circle cx="74.4" cy="80.6" r="0.48" fill="#cfa47c" opacity="0.63"/><circle cx="77.1" cy="68.0" r="0.57" fill="#b98558" opacity="0.77"/><circle cx="68.7" cy="73.5" r="0.82" fill="#b98558" opacity="0.62"/><circle cx="88.2" cy="40.5" r="0.68" fill="#b98558" opacity="0.66"/><circle cx="96.9" cy="32.9" r="0.84" fill="#b98558" opacity="0.74"/><circle cx="75.0" cy="71.6" r="0.80" fill="#b98558" opacity="0.75"/><circle cx="82.2" cy="26.4" r="0.77" fill="#b98558" opacity="0.84"/><circle cx="80.0" cy="52.7" r="0.54" fill="#b98558" opacity="1.00"/><circle cx="73.0" cy="73.2" r="0.87" fill="#a97748" opacity="0.93"/><circle cx="72.5" cy="95.9" r="0.57" fill="#a97748" opacity="0.79"/><circle cx="95.8" cy="34.2" r="0.73" fill="#cfa47c" opacity="0.69"/><circle cx="74.4" cy="22.8" r="0.97" fill="#a97748" opacity="0.96"/><circle cx="76.6" cy="72.2" r="0.99" fill="#cfa47c" opacity="0.81"/><circle cx="77.8" cy="66.3" r="0.62" fill="#cfa47c" opacity="0.75"/><circle cx="73.3" cy="51.5" r="0.74" fill="#cfa47c" opacity="0.61"/><circle cx="72.4" cy="71.3" r="1.00" fill="#b98558" opacity="0.93"/><circle cx="86.0" cy="46.1" r="0.90" fill="#b98558" opacity="0.55"/><circle cx="99.8" cy="30.1" r="0.70" fill="#a97748" opacity="0.66"/><circle cx="91.8" cy="42.2" r="1.00" fill="#a97748" opacity="0.69"/><circle cx="92.2" cy="33.5" r="0.71" fill="#a97748" opacity="0.77"/><circle cx="93.2" cy="26.1" r="0.81" fill="#c4956b" opacity="0.57"/><circle cx="66.9" cy="120.7" r="0.87" fill="#b98558" opacity="0.81"/><circle cx="57.7" cy="47.3" r="0.65" fill="#c4956b" opacity="0.80"/><circle cx="93.2" cy="37.3" r="0.77" fill="#c4956b" opacity="0.89"/><circle cx="95.7" cy="28.2" r="0.65" fill="#cfa47c" opacity="0.87"/><circle cx="90.5" cy="42.9" r="0.52" fill="#a97748" opacity="0.80"/><circle cx="90.6" cy="21.0" r="0.63" fill="#b98558" opacity="0.75"/><circle cx="69.9" cy="104.8" r="0.88" fill="#b98558" opacity="0.73"/><circle cx="76.6" cy="64.6" r="0.81" fill="#a97748" opacity="0.98"/><circle cx="83.5" cy="51.6" r="0.65" fill="#cfa47c" opacity="0.58"/><circle cx="74.2" cy="76.7" r="0.57" fill="#cfa47c" opacity="0.97"/><circle cx="73.0" cy="84.3" r="0.60" fill="#a97748" opacity="0.91"/><circle cx="96.3" cy="29.6" r="0.69" fill="#cfa47c" opacity="0.70"/><circle cx="90.1" cy="42.3" r="0.56" fill="#a97748" opacity="0.71"/><circle cx="79.6" cy="58.7" r="0.90" fill="#cfa47c" opacity="0.82"/><circle cx="61.9" cy="42.4" r="0.74" fill="#a97748" opacity="0.69"/><circle cx="83.6" cy="36.9" r="0.55" fill="#c4956b" opacity="0.91"/><circle cx="100.1" cy="23.0" r="0.80" fill="#b98558" opacity="0.91"/><circle cx="80.8" cy="26.6" r="0.60" fill="#b98558" opacity="0.91"/><circle cx="73.4" cy="83.8" r="0.59" fill="#cfa47c" opacity="0.71"/><circle cx="77.7" cy="59.6" r="0.90" fill="#a97748" opacity="0.65"/><circle cx="88.2" cy="22.0" r="0.98" fill="#c4956b" opacity="0.97"/><circle cx="73.9" cy="115.3" r="0.47" fill="#cfa47c" opacity="0.96"/><circle cx="95.4" cy="25.1" r="0.57" fill="#a97748" opacity="0.68"/><circle cx="73.8" cy="90.5" r="0.74" fill="#cfa47c" opacity="0.64"/><circle cx="72.6" cy="104.3" r="0.95" fill="#cfa47c" opacity="0.61"/><circle cx="62.2" cy="51.3" r="0.90" fill="#c4956b" opacity="0.73"/><circle cx="88.0" cy="30.7" r="0.77" fill="#a97748" opacity="0.74"/><circle cx="80.3" cy="47.0" r="0.85" fill="#b98558" opacity="0.97"/><circle cx="99.5" cy="27.7" r="0.87" fill="#cfa47c" opacity="0.71"/><circle cx="73.3" cy="100.6" r="0.65" fill="#a97748" opacity="0.66"/><circle cx="75.6" cy="38.7" r="0.83" fill="#b98558" opacity="0.98"/><circle cx="89.2" cy="42.4" r="0.63" fill="#b98558" opacity="0.67"/><circle cx="63.3" cy="118.5" r="0.51" fill="#cfa47c" opacity="0.97"/><circle cx="73.3" cy="67.1" r="0.82" fill="#cfa47c" opacity="0.83"/><circle cx="77.5" cy="68.1" r="0.59" fill="#cfa47c" opacity="0.85"/><circle cx="71.8" cy="115.4" r="0.64" fill="#a97748" opacity="0.89"/><circle cx="73.3" cy="109.1" r="0.54" fill="#a97748" opacity="0.89"/><circle cx="97.4" cy="23.3" r="0.94" fill="#c4956b" opacity="0.68"/><circle cx="77.1" cy="50.9" r="0.79" fill="#b98558" opacity="0.63"/><circle cx="72.9" cy="114.1" r="0.52" fill="#b98558" opacity="0.84"/><circle cx="76.2" cy="65.6" r="0.72" fill="#b98558" opacity="0.80"/><circle cx="71.3" cy="81.3" r="0.67" fill="#b98558" opacity="0.85"/><circle cx="74.5" cy="53.2" r="0.68" fill="#cfa47c" opacity="0.95"/><circle cx="82.8" cy="52.6" r="0.51" fill="#a97748" opacity="0.83"/><circle cx="81.0" cy="45.8" r="0.85" fill="#cfa47c" opacity="0.63"/><circle cx="69.5" cy="90.5" r="0.69" fill="#a97748" opacity="0.77"/><circle cx="77.0" cy="49.4" r="0.67" fill="#c4956b" opacity="0.77"/><circle cx="64.8" cy="58.3" r="0.54" fill="#b98558" opacity="0.96"/><circle cx="79.4" cy="57.6" r="0.87" fill="#a97748" opacity="0.71"/><circle cx="63.4" cy="112.4" r="0.84" fill="#a97748" opacity="0.76"/><circle cx="69.2" cy="27.6" r="0.80" fill="#a97748" opacity="0.93"/><circle cx="75.4" cy="76.3" r="0.60" fill="#b98558" opacity="0.74"/><circle cx="77.1" cy="38.3" r="0.98" fill="#cfa47c" opacity="0.76"/><circle cx="76.8" cy="57.2" r="0.49" fill="#c4956b" opacity="0.73"/><circle cx="52.6" cy="27.0" r="0.96" fill="#c4956b" opacity="0.98"/><circle cx="72.9" cy="51.9" r="0.69" fill="#cfa47c" opacity="0.69"/><circle cx="101.3" cy="31.3" r="0.75" fill="#cfa47c" opacity="0.73"/><circle cx="76.4" cy="55.4" r="0.81" fill="#c4956b" opacity="0.63"/><circle cx="88.2" cy="34.1" r="0.53" fill="#c4956b" opacity="0.85"/><circle cx="94.7" cy="39.5" r="0.56" fill="#b98558" opacity="0.72"/><circle cx="78.3" cy="50.7" r="0.60" fill="#b98558" opacity="0.92"/><circle cx="76.9" cy="63.6" r="0.49" fill="#a97748" opacity="0.71"/><circle cx="70.1" cy="69.5" r="0.49" fill="#b98558" opacity="0.67"/><circle cx="81.1" cy="29.8" r="0.70" fill="#b98558" opacity="0.80"/><circle cx="73.8" cy="55.4" r="0.87" fill="#cfa47c" opacity="0.56"/><circle cx="69.7" cy="109.4" r="0.53" fill="#cfa47c" opacity="0.86"/><circle cx="87.1" cy="29.9" r="0.91" fill="#cfa47c" opacity="0.79"/><circle cx="74.4" cy="93.9" r="0.45" fill="#cfa47c" opacity="0.79"/><circle cx="74.6" cy="89.7" r="0.79" fill="#a97748" opacity="0.71"/><circle cx="78.5" cy="63.3" r="0.54" fill="#b98558" opacity="0.88"/><circle cx="74.0" cy="105.5" r="0.46" fill="#b98558" opacity="0.77"/><circle cx="70.6" cy="68.1" r="0.81" fill="#a97748" opacity="0.71"/><circle cx="88.3" cy="23.2" r="0.64" fill="#cfa47c" opacity="0.63"/><circle cx="77.2" cy="68.7" r="0.82" fill="#cfa47c" opacity="0.64"/><circle cx="74.2" cy="101.9" r="0.55" fill="#c4956b" opacity="0.96"/><circle cx="78.1" cy="40.3" r="0.61" fill="#a97748" opacity="0.71"/><circle cx="96.4" cy="33.5" r="0.61" fill="#b98558" opacity="0.92"/><circle cx="76.3" cy="76.3" r="0.64" fill="#c4956b" opacity="0.99"/><circle cx="89.3" cy="40.9" r="0.59" fill="#cfa47c" opacity="0.84"/><circle cx="89.4" cy="28.7" r="0.79" fill="#cfa47c" opacity="0.63"/><circle cx="75.6" cy="71.0" r="0.64" fill="#c4956b" opacity="0.90"/><circle cx="67.8" cy="54.4" r="0.99" fill="#c4956b" opacity="0.90"/><circle cx="99.5" cy="27.0" r="0.46" fill="#cfa47c" opacity="0.61"/><circle cx="81.3" cy="26.1" r="0.54" fill="#b98558" opacity="0.68"/><circle cx="60.3" cy="55.1" r="0.67" fill="#b98558" opacity="0.69"/><circle cx="74.5" cy="42.9" r="0.78" fill="#c4956b" opacity="0.82"/><circle cx="91.3" cy="45.1" r="0.98" fill="#c4956b" opacity="0.83"/><circle cx="75.4" cy="77.5" r="0.60" fill="#a97748" opacity="0.66"/><circle cx="91.7" cy="41.4" r="0.90" fill="#b98558" opacity="0.65"/><circle cx="82.6" cy="53.7" r="0.75" fill="#c4956b" opacity="0.99"/><circle cx="74.1" cy="70.7" r="0.87" fill="#b98558" opacity="0.77"/><circle cx="73.5" cy="97.3" r="0.74" fill="#c4956b" opacity="0.62"/><circle cx="73.7" cy="87.2" r="0.55" fill="#c4956b" opacity="0.93"/><circle cx="70.5" cy="115.8" r="0.81" fill="#a97748" opacity="0.71"/></g>
<g filter="url(#b03)"><circle cx="69.8" cy="44.0" r="0.81" fill="#c08d62" opacity="0.94"/><circle cx="65.4" cy="40.4" r="0.94" fill="#c08d62" opacity="0.84"/><circle cx="67.0" cy="36.4" r="0.65" fill="#c08d62" opacity="0.81"/><circle cx="69.8" cy="36.8" r="0.78" fill="#c08d62" opacity="0.84"/><circle cx="64.6" cy="45.2" r="0.76" fill="#c08d62" opacity="0.84"/><circle cx="71.9" cy="41.9" r="0.54" fill="#c08d62" opacity="0.68"/><circle cx="68.2" cy="44.9" r="0.62" fill="#c08d62" opacity="0.84"/><circle cx="64.8" cy="42.0" r="0.91" fill="#c08d62" opacity="0.81"/><circle cx="71.2" cy="40.2" r="0.93" fill="#c08d62" opacity="0.88"/><circle cx="67.5" cy="42.7" r="0.53" fill="#c08d62" opacity="0.75"/><circle cx="71.5" cy="41.3" r="0.97" fill="#c08d62" opacity="0.87"/><circle cx="76.3" cy="45.8" r="0.50" fill="#c08d62" opacity="0.85"/><circle cx="65.9" cy="39.8" r="0.70" fill="#c08d62" opacity="0.77"/><circle cx="72.8" cy="44.0" r="0.94" fill="#c08d62" opacity="0.75"/><circle cx="63.2" cy="37.6" r="0.92" fill="#c08d62" opacity="0.56"/><circle cx="62.0" cy="43.2" r="0.98" fill="#c08d62" opacity="0.60"/><circle cx="68.6" cy="43.4" r="0.50" fill="#c08d62" opacity="0.84"/><circle cx="67.9" cy="43.7" r="0.52" fill="#c08d62" opacity="0.71"/><circle cx="74.9" cy="37.1" r="0.59" fill="#c08d62" opacity="0.52"/><circle cx="66.3" cy="43.6" r="0.60" fill="#c08d62" opacity="0.91"/><circle cx="66.6" cy="43.6" r="0.64" fill="#c08d62" opacity="0.71"/><circle cx="69.0" cy="38.6" r="0.99" fill="#c08d62" opacity="0.70"/><circle cx="65.8" cy="41.0" r="0.53" fill="#c08d62" opacity="0.90"/><circle cx="68.3" cy="43.4" r="0.68" fill="#c08d62" opacity="0.80"/><circle cx="68.6" cy="41.0" r="0.68" fill="#c08d62" opacity="0.64"/><circle cx="70.6" cy="41.7" r="0.55" fill="#c08d62" opacity="0.59"/><circle cx="70.8" cy="37.0" r="0.66" fill="#c08d62" opacity="0.76"/><circle cx="70.4" cy="42.9" r="0.63" fill="#c08d62" opacity="0.81"/><circle cx="66.4" cy="41.7" r="0.73" fill="#c08d62" opacity="0.69"/><circle cx="71.7" cy="38.9" r="0.58" fill="#c08d62" opacity="0.58"/><circle cx="70.6" cy="42.6" r="0.80" fill="#c08d62" opacity="0.91"/><circle cx="72.0" cy="42.4" r="0.60" fill="#c08d62" opacity="0.95"/><circle cx="65.2" cy="41.7" r="0.75" fill="#c08d62" opacity="0.90"/><circle cx="60.9" cy="39.2" r="0.94" fill="#c08d62" opacity="0.85"/><circle cx="73.7" cy="41.7" r="0.81" fill="#c08d62" opacity="0.75"/><circle cx="66.8" cy="40.8" r="0.81" fill="#c08d62" opacity="0.80"/><circle cx="68.1" cy="42.2" r="0.53" fill="#c08d62" opacity="0.81"/><circle cx="79.4" cy="43.5" r="0.76" fill="#c08d62" opacity="0.71"/><circle cx="68.2" cy="42.1" r="0.64" fill="#c08d62" opacity="0.54"/><circle cx="72.3" cy="37.0" r="1.00" fill="#c08d62" opacity="0.70"/><circle cx="70.3" cy="40.1" r="0.84" fill="#c08d62" opacity="0.74"/><circle cx="64.3" cy="42.9" r="0.60" fill="#c08d62" opacity="0.71"/><circle cx="75.6" cy="43.2" r="0.67" fill="#c08d62" opacity="0.72"/><circle cx="68.7" cy="43.7" r="0.97" fill="#c08d62" opacity="0.61"/><circle cx="75.8" cy="39.7" r="0.59" fill="#c08d62" opacity="0.90"/><circle cx="71.6" cy="37.8" r="0.74" fill="#c08d62" opacity="0.71"/><circle cx="67.5" cy="43.1" r="0.91" fill="#c08d62" opacity="0.89"/><circle cx="73.5" cy="40.8" r="0.63" fill="#c08d62" opacity="0.67"/><circle cx="64.8" cy="45.2" r="0.68" fill="#c08d62" opacity="0.56"/><circle cx="72.1" cy="42.3" r="0.60" fill="#c08d62" opacity="0.69"/><circle cx="70.1" cy="43.5" r="0.99" fill="#c08d62" opacity="0.66"/><circle cx="67.8" cy="41.0" r="0.85" fill="#c08d62" opacity="0.53"/><circle cx="66.4" cy="45.2" r="0.80" fill="#c08d62" opacity="0.66"/><circle cx="69.2" cy="44.1" r="0.53" fill="#c08d62" opacity="0.84"/><circle cx="70.2" cy="44.6" r="0.78" fill="#c08d62" opacity="0.67"/><circle cx="73.6" cy="44.5" r="0.67" fill="#c08d62" opacity="0.90"/><circle cx="64.2" cy="43.0" r="0.96" fill="#c08d62" opacity="0.76"/><circle cx="77.3" cy="40.6" r="0.81" fill="#c08d62" opacity="0.78"/><circle cx="64.8" cy="44.1" r="0.60" fill="#c08d62" opacity="0.77"/><circle cx="68.0" cy="41.8" r="0.62" fill="#c08d62" opacity="0.61"/><circle cx="65.4" cy="44.5" r="0.56" fill="#c08d62" opacity="0.67"/><circle cx="65.7" cy="39.4" r="0.52" fill="#c08d62" opacity="0.73"/><circle cx="65.9" cy="42.2" r="0.53" fill="#c08d62" opacity="0.68"/><circle cx="71.7" cy="42.4" r="0.57" fill="#c08d62" opacity="0.61"/><circle cx="74.8" cy="42.5" r="0.98" fill="#c08d62" opacity="0.69"/><circle cx="65.5" cy="40.4" r="0.55" fill="#c08d62" opacity="0.64"/><circle cx="73.4" cy="40.7" r="0.70" fill="#c08d62" opacity="0.54"/><circle cx="65.8" cy="38.2" r="0.55" fill="#c08d62" opacity="0.94"/><circle cx="61.2" cy="40.9" r="0.91" fill="#c08d62" opacity="0.88"/><circle cx="68.1" cy="40.0" r="0.82" fill="#c08d62" opacity="0.70"/></g>
<rect x="115.2" y="90.9" width="35.1" height="31.3" fill="#fdf9f9" stroke="#aaa2a5" stroke-width="1"/>
<ellipse cx="125.3" cy="100.1" rx="6.4" ry="6" fill="#e2d6ee" filter="url(#b1)"/>
<ellipse cx="126" cy="99.5" rx="2.6" ry="2.4" fill="#f3e1e6" filter="url(#b05)"/>
<ellipse cx="139.6" cy="107.8" rx="7.6" ry="8" fill="#f0d6d8" filter="url(#b1)"/>
<ellipse cx="131.8" cy="113.9" rx="7" ry="3.3" fill="#ecdde9" filter="url(#b1)"/>
<ellipse cx="139.8" cy="108.5" rx="4.7" ry="4.2" fill="#b97c54" filter="url(#b05)"/>
<rect x="47.8" y="119.5" width="30" height="0.8" fill="#2a2020"/>
<g fill="#4a3c3c" opacity="0.85"><rect x="48" y="121.6" width="0.8" height="1.1"/><rect x="53" y="121.6" width="2" height="1.1"/><rect x="59.3" y="121.6" width="2" height="1.1"/><rect x="66" y="121.6" width="2" height="1.1"/><rect x="71" y="121.6" width="3" height="1.1"/><rect x="77.5" y="121.6" width="0.8" height="1.1"/></g>
</g>
<g clip-path="url(#c2)">
<rect x="248" y="20" width="104" height="103" fill="url(#g2)"/>
<rect x="243" y="20" width="9" height="103" fill="#ecd8d5" filter="url(#b3)" opacity="0.45"/>
<ellipse cx="256" cy="112" rx="12" ry="18" fill="#ecd9d6" filter="url(#b6)" opacity="0.7"/>
<path d="M272 20 C268 50 264 80 258 122" stroke="#f3e8f2" stroke-width="10" fill="none" filter="url(#b3)" opacity="0.9"/>
<ellipse cx="330" cy="20" rx="32" ry="14" fill="#c99a80" filter="url(#b6)" opacity="0.6"/>
<path d="M299 20 C292 50 284 80 273 122 L352 122 L352 20 Z" fill="#f3e4e2" filter="url(#nzA)" opacity="0.26"/>
<path d="M293 20 C286 50 278 80 267 122 L352 122 L352 20 Z" fill="#b9866c" filter="url(#nzB)" opacity="0.2"/>
<g filter="url(#b05)"><circle cx="282.0" cy="67.7" r="0.46" fill="#d0a795" opacity="0.40"/><circle cx="270.1" cy="71.8" r="0.43" fill="#d0a795" opacity="0.82"/><circle cx="270.8" cy="92.1" r="0.47" fill="#dcbcb0" opacity="0.83"/><circle cx="284.8" cy="63.5" r="0.42" fill="#d6b2a2" opacity="0.63"/><circle cx="267.4" cy="115.2" r="0.71" fill="#dcbcb0" opacity="0.76"/><circle cx="258.6" cy="111.4" r="0.48" fill="#d6b2a2" opacity="0.73"/><circle cx="285.4" cy="63.4" r="0.51" fill="#d6b2a2" opacity="0.58"/><circle cx="287.8" cy="55.2" r="0.68" fill="#d6b2a2" opacity="0.80"/><circle cx="292.7" cy="25.6" r="0.60" fill="#d6b2a2" opacity="0.51"/><circle cx="266.3" cy="95.8" r="0.79" fill="#d6b2a2" opacity="0.45"/><circle cx="268.3" cy="79.6" r="0.48" fill="#d6b2a2" opacity="0.80"/><circle cx="278.5" cy="33.7" r="0.60" fill="#d0a795" opacity="0.62"/><circle cx="269.6" cy="114.9" r="0.56" fill="#d0a795" opacity="0.74"/><circle cx="277.7" cy="92.2" r="0.78" fill="#d0a795" opacity="0.83"/><circle cx="290.7" cy="25.6" r="0.64" fill="#d6b2a2" opacity="0.74"/><circle cx="272.5" cy="95.9" r="0.41" fill="#d0a795" opacity="0.58"/><circle cx="272.2" cy="113.3" r="0.60" fill="#d0a795" opacity="0.56"/><circle cx="273.9" cy="89.4" r="0.71" fill="#d6b2a2" opacity="0.79"/><circle cx="281.3" cy="31.3" r="0.55" fill="#d6b2a2" opacity="0.58"/><circle cx="266.0" cy="121.6" r="0.41" fill="#d0a795" opacity="0.55"/><circle cx="284.2" cy="64.7" r="0.58" fill="#dcbcb0" opacity="0.77"/><circle cx="286.9" cy="51.6" r="0.61" fill="#d6b2a2" opacity="0.41"/><circle cx="266.6" cy="100.4" r="0.60" fill="#d0a795" opacity="0.75"/><circle cx="281.7" cy="78.3" r="0.66" fill="#d6b2a2" opacity="0.83"/><circle cx="283.7" cy="61.3" r="0.74" fill="#dcbcb0" opacity="0.46"/><circle cx="282.3" cy="49.9" r="0.75" fill="#d6b2a2" opacity="0.42"/><circle cx="270.3" cy="120.5" r="0.78" fill="#d6b2a2" opacity="0.67"/><circle cx="296.3" cy="21.2" r="0.48" fill="#dcbcb0" opacity="0.53"/><circle cx="287.0" cy="21.5" r="0.51" fill="#dcbcb0" opacity="0.65"/><circle cx="292.9" cy="34.1" r="0.62" fill="#d0a795" opacity="0.45"/><circle cx="285.1" cy="63.3" r="0.62" fill="#dcbcb0" opacity="0.66"/><circle cx="269.4" cy="102.7" r="0.51" fill="#d0a795" opacity="0.80"/><circle cx="283.4" cy="70.9" r="0.42" fill="#d0a795" opacity="0.46"/><circle cx="265.7" cy="102.2" r="0.46" fill="#d6b2a2" opacity="0.79"/><circle cx="287.8" cy="40.9" r="0.64" fill="#d0a795" opacity="0.57"/><circle cx="288.5" cy="37.8" r="0.78" fill="#d0a795" opacity="0.43"/><circle cx="274.7" cy="87.1" r="0.63" fill="#dcbcb0" opacity="0.64"/><circle cx="278.6" cy="73.9" r="0.76" fill="#d6b2a2" opacity="0.79"/><circle cx="263.3" cy="79.1" r="0.43" fill="#d6b2a2" opacity="0.72"/><circle cx="287.1" cy="30.6" r="0.58" fill="#dcbcb0" opacity="0.80"/><circle cx="271.1" cy="94.9" r="0.41" fill="#d6b2a2" opacity="0.80"/><circle cx="280.5" cy="43.8" r="0.69" fill="#d0a795" opacity="0.62"/><circle cx="284.8" cy="45.0" r="0.43" fill="#d6b2a2" opacity="0.71"/><circle cx="285.9" cy="61.9" r="0.48" fill="#d0a795" opacity="0.74"/><circle cx="294.6" cy="28.7" r="0.65" fill="#d0a795" opacity="0.64"/><circle cx="287.4" cy="22.7" r="0.53" fill="#dcbcb0" opacity="0.40"/><circle cx="266.6" cy="118.3" r="0.79" fill="#dcbcb0" opacity="0.77"/><circle cx="291.6" cy="30.9" r="0.49" fill="#d6b2a2" opacity="0.49"/><circle cx="290.5" cy="42.8" r="0.45" fill="#d0a795" opacity="0.84"/><circle cx="279.1" cy="58.4" r="0.59" fill="#d0a795" opacity="0.49"/><circle cx="273.5" cy="110.1" r="0.40" fill="#d0a795" opacity="0.71"/><circle cx="294.8" cy="21.6" r="0.64" fill="#d6b2a2" opacity="0.63"/><circle cx="272.3" cy="63.0" r="0.59" fill="#dcbcb0" opacity="0.67"/><circle cx="290.8" cy="42.7" r="0.51" fill="#dcbcb0" opacity="0.42"/><circle cx="289.5" cy="39.2" r="0.79" fill="#dcbcb0" opacity="0.82"/><circle cx="258.8" cy="110.3" r="0.79" fill="#d6b2a2" opacity="0.41"/><circle cx="282.2" cy="65.2" r="0.53" fill="#d0a795" opacity="0.56"/><circle cx="272.0" cy="106.2" r="0.48" fill="#dcbcb0" opacity="0.54"/><circle cx="269.2" cy="68.1" r="0.58" fill="#dcbcb0" opacity="0.48"/><circle cx="284.1" cy="61.4" r="0.47" fill="#d0a795" opacity="0.41"/><circle cx="288.7" cy="41.7" r="0.76" fill="#d0a795" opacity="0.44"/><circle cx="251.7" cy="120.4" r="0.64" fill="#d0a795" opacity="0.73"/><circle cx="286.8" cy="41.8" r="0.53" fill="#d6b2a2" opacity="0.70"/><circle cx="284.4" cy="63.4" r="0.69" fill="#d0a795" opacity="0.63"/><circle cx="284.8" cy="67.7" r="0.77" fill="#d6b2a2" opacity="0.43"/><circle cx="281.5" cy="21.1" r="0.42" fill="#d6b2a2" opacity="0.55"/><circle cx="274.5" cy="91.4" r="0.72" fill="#dcbcb0" opacity="0.69"/><circle cx="273.5" cy="60.7" r="0.60" fill="#d6b2a2" opacity="0.63"/><circle cx="270.0" cy="56.8" r="0.48" fill="#dcbcb0" opacity="0.66"/><circle cx="267.0" cy="102.3" r="0.47" fill="#d6b2a2" opacity="0.40"/><circle cx="278.9" cy="90.5" r="0.59" fill="#d0a795" opacity="0.59"/><circle cx="270.7" cy="120.7" r="0.51" fill="#d0a795" opacity="0.60"/><circle cx="277.6" cy="90.0" r="0.53" fill="#d0a795" opacity="0.71"/><circle cx="277.2" cy="96.6" r="0.51" fill="#dcbcb0" opacity="0.41"/><circle cx="283.1" cy="39.2" r="0.67" fill="#d6b2a2" opacity="0.60"/><circle cx="279.8" cy="55.1" r="0.45" fill="#dcbcb0" opacity="0.50"/><circle cx="284.7" cy="40.9" r="0.57" fill="#d0a795" opacity="0.85"/><circle cx="264.9" cy="116.4" r="0.60" fill="#d6b2a2" opacity="0.57"/><circle cx="263.0" cy="102.3" r="0.57" fill="#d0a795" opacity="0.83"/><circle cx="267.4" cy="77.3" r="0.79" fill="#d6b2a2" opacity="0.80"/><circle cx="288.5" cy="46.8" r="0.59" fill="#d0a795" opacity="0.48"/><circle cx="266.8" cy="74.7" r="0.62" fill="#d0a795" opacity="0.50"/><circle cx="270.6" cy="122.8" r="0.69" fill="#d0a795" opacity="0.66"/><circle cx="281.0" cy="40.6" r="0.51" fill="#d6b2a2" opacity="0.55"/><circle cx="286.1" cy="60.7" r="0.73" fill="#d6b2a2" opacity="0.60"/><circle cx="271.4" cy="119.4" r="0.47" fill="#d6b2a2" opacity="0.80"/><circle cx="272.3" cy="93.2" r="0.72" fill="#d0a795" opacity="0.57"/><circle cx="264.1" cy="98.0" r="0.60" fill="#dcbcb0" opacity="0.41"/><circle cx="269.9" cy="122.9" r="0.57" fill="#d0a795" opacity="0.48"/><circle cx="268.7" cy="107.4" r="0.44" fill="#dcbcb0" opacity="0.63"/><circle cx="284.6" cy="46.1" r="0.78" fill="#dcbcb0" opacity="0.64"/><circle cx="262.7" cy="122.8" r="0.66" fill="#dcbcb0" opacity="0.54"/><circle cx="273.3" cy="107.7" r="0.41" fill="#dcbcb0" opacity="0.72"/><circle cx="288.2" cy="46.2" r="0.40" fill="#d0a795" opacity="0.69"/><circle cx="269.6" cy="116.4" r="0.66" fill="#dcbcb0" opacity="0.65"/><circle cx="285.9" cy="36.5" r="0.45" fill="#d6b2a2" opacity="0.44"/><circle cx="289.7" cy="41.7" r="0.75" fill="#dcbcb0" opacity="0.56"/><circle cx="275.0" cy="77.4" r="0.43" fill="#d0a795" opacity="0.58"/><circle cx="284.6" cy="63.9" r="0.50" fill="#d6b2a2" opacity="0.63"/><circle cx="272.1" cy="107.2" r="0.66" fill="#d0a795" opacity="0.56"/><circle cx="270.0" cy="73.1" r="0.41" fill="#d0a795" opacity="0.54"/><circle cx="283.0" cy="67.1" r="0.72" fill="#d0a795" opacity="0.59"/><circle cx="276.7" cy="98.3" r="0.54" fill="#d0a795" opacity="0.71"/><circle cx="289.3" cy="42.9" r="0.58" fill="#d6b2a2" opacity="0.85"/><circle cx="271.6" cy="103.1" r="0.69" fill="#d6b2a2" opacity="0.69"/><circle cx="269.8" cy="102.3" r="0.57" fill="#d6b2a2" opacity="0.54"/><circle cx="293.1" cy="28.1" r="0.48" fill="#d0a795" opacity="0.83"/><circle cx="270.2" cy="121.0" r="0.41" fill="#dcbcb0" opacity="0.72"/><circle cx="278.0" cy="73.4" r="0.40" fill="#dcbcb0" opacity="0.67"/><circle cx="285.1" cy="59.2" r="0.79" fill="#d6b2a2" opacity="0.84"/><circle cx="290.6" cy="27.6" r="0.52" fill="#d0a795" opacity="0.59"/><circle cx="290.0" cy="38.7" r="0.51" fill="#d0a795" opacity="0.61"/><circle cx="271.1" cy="97.5" r="0.53" fill="#d0a795" opacity="0.63"/><circle cx="274.0" cy="108.7" r="0.61" fill="#d0a795" opacity="0.61"/><circle cx="291.5" cy="29.1" r="0.71" fill="#d0a795" opacity="0.55"/><circle cx="275.0" cy="102.0" r="0.78" fill="#d0a795" opacity="0.47"/><circle cx="272.8" cy="86.6" r="0.61" fill="#d6b2a2" opacity="0.66"/><circle cx="294.7" cy="21.3" r="0.68" fill="#d6b2a2" opacity="0.79"/><circle cx="280.2" cy="78.7" r="0.62" fill="#dcbcb0" opacity="0.40"/><circle cx="269.8" cy="109.9" r="0.58" fill="#d0a795" opacity="0.83"/><circle cx="268.4" cy="122.9" r="0.47" fill="#d0a795" opacity="0.84"/><circle cx="276.4" cy="91.7" r="0.59" fill="#dcbcb0" opacity="0.82"/><circle cx="289.0" cy="49.2" r="0.63" fill="#dcbcb0" opacity="0.76"/><circle cx="271.1" cy="82.7" r="0.43" fill="#dcbcb0" opacity="0.50"/><circle cx="286.4" cy="50.3" r="0.60" fill="#d6b2a2" opacity="0.47"/><circle cx="278.2" cy="90.7" r="0.43" fill="#d6b2a2" opacity="0.75"/><circle cx="272.2" cy="109.2" r="0.59" fill="#dcbcb0" opacity="0.75"/><circle cx="284.1" cy="66.0" r="0.73" fill="#dcbcb0" opacity="0.81"/><circle cx="285.9" cy="29.9" r="0.73" fill="#dcbcb0" opacity="0.68"/><circle cx="288.8" cy="46.8" r="0.68" fill="#d0a795" opacity="0.73"/><circle cx="279.4" cy="70.8" r="0.56" fill="#d0a795" opacity="0.70"/><circle cx="281.7" cy="68.0" r="0.44" fill="#dcbcb0" opacity="0.84"/><circle cx="276.7" cy="94.9" r="0.41" fill="#d0a795" opacity="0.57"/><circle cx="284.3" cy="66.9" r="0.44" fill="#d0a795" opacity="0.57"/><circle cx="272.6" cy="76.2" r="0.45" fill="#dcbcb0" opacity="0.76"/><circle cx="286.1" cy="44.3" r="0.65" fill="#d6b2a2" opacity="0.44"/><circle cx="283.7" cy="57.4" r="0.55" fill="#d6b2a2" opacity="0.71"/><circle cx="276.4" cy="76.0" r="0.40" fill="#dcbcb0" opacity="0.52"/><circle cx="280.7" cy="80.0" r="0.43" fill="#d6b2a2" opacity="0.52"/><circle cx="282.5" cy="36.6" r="0.45" fill="#d6b2a2" opacity="0.65"/><circle cx="275.8" cy="102.9" r="0.68" fill="#d0a795" opacity="0.43"/><circle cx="272.4" cy="113.4" r="0.69" fill="#d0a795" opacity="0.53"/><circle cx="279.4" cy="87.3" r="0.46" fill="#d6b2a2" opacity="0.69"/><circle cx="289.2" cy="35.5" r="0.50" fill="#dcbcb0" opacity="0.82"/><circle cx="289.2" cy="30.1" r="0.51" fill="#d6b2a2" opacity="0.40"/><circle cx="264.0" cy="100.7" r="0.70" fill="#d0a795" opacity="0.70"/><circle cx="276.9" cy="56.4" r="0.48" fill="#d0a795" opacity="0.55"/><circle cx="294.9" cy="21.9" r="0.43" fill="#d6b2a2" opacity="0.74"/><circle cx="270.6" cy="93.0" r="0.41" fill="#d0a795" opacity="0.71"/><circle cx="266.5" cy="96.5" r="0.52" fill="#d0a795" opacity="0.54"/><circle cx="290.3" cy="27.4" r="0.72" fill="#d0a795" opacity="0.80"/><circle cx="291.0" cy="41.1" r="0.49" fill="#d6b2a2" opacity="0.61"/><circle cx="272.0" cy="88.4" r="0.67" fill="#d0a795" opacity="0.56"/><circle cx="271.6" cy="100.9" r="0.51" fill="#d0a795" opacity="0.52"/><circle cx="292.7" cy="26.0" r="0.43" fill="#d6b2a2" opacity="0.74"/><circle cx="262.7" cy="91.8" r="0.77" fill="#d0a795" opacity="0.51"/><circle cx="296.0" cy="22.6" r="0.40" fill="#d0a795" opacity="0.56"/><circle cx="293.8" cy="27.5" r="0.46" fill="#d0a795" opacity="0.65"/><circle cx="281.2" cy="67.3" r="0.80" fill="#d0a795" opacity="0.60"/><circle cx="282.7" cy="70.9" r="0.80" fill="#dcbcb0" opacity="0.43"/><circle cx="281.0" cy="79.1" r="0.46" fill="#d6b2a2" opacity="0.59"/><circle cx="275.0" cy="96.6" r="0.65" fill="#d0a795" opacity="0.42"/><circle cx="292.5" cy="26.7" r="0.79" fill="#d0a795" opacity="0.77"/><circle cx="291.9" cy="32.3" r="0.57" fill="#dcbcb0" opacity="0.50"/><circle cx="269.6" cy="86.0" r="0.61" fill="#dcbcb0" opacity="0.56"/><circle cx="279.2" cy="40.5" r="0.74" fill="#dcbcb0" opacity="0.73"/><circle cx="281.1" cy="80.9" r="0.77" fill="#dcbcb0" opacity="0.68"/><circle cx="272.7" cy="93.5" r="0.41" fill="#dcbcb0" opacity="0.48"/><circle cx="274.4" cy="95.1" r="0.42" fill="#d6b2a2" opacity="0.75"/><circle cx="284.8" cy="67.1" r="0.79" fill="#dcbcb0" opacity="0.42"/><circle cx="283.4" cy="64.2" r="0.66" fill="#d6b2a2" opacity="0.59"/><circle cx="290.6" cy="28.2" r="0.54" fill="#d6b2a2" opacity="0.72"/><circle cx="271.0" cy="109.3" r="0.42" fill="#dcbcb0" opacity="0.59"/><circle cx="282.8" cy="56.8" r="0.69" fill="#d0a795" opacity="0.72"/><circle cx="269.1" cy="116.9" r="0.66" fill="#dcbcb0" opacity="0.41"/><circle cx="291.3" cy="39.4" r="0.55" fill="#dcbcb0" opacity="0.72"/><circle cx="281.0" cy="81.3" r="0.57" fill="#d0a795" opacity="0.70"/><circle cx="253.8" cy="115.4" r="0.55" fill="#dcbcb0" opacity="0.51"/><circle cx="279.4" cy="78.3" r="0.76" fill="#dcbcb0" opacity="0.43"/><circle cx="279.2" cy="81.1" r="0.63" fill="#d6b2a2" opacity="0.57"/><circle cx="281.4" cy="72.1" r="0.64" fill="#d0a795" opacity="0.55"/><circle cx="276.3" cy="99.4" r="0.42" fill="#dcbcb0" opacity="0.55"/><circle cx="291.1" cy="40.5" r="0.65" fill="#d0a795" opacity="0.46"/><circle cx="286.3" cy="55.5" r="0.70" fill="#dcbcb0" opacity="0.81"/><circle cx="291.8" cy="37.3" r="0.45" fill="#d6b2a2" opacity="0.41"/><circle cx="270.7" cy="117.8" r="0.49" fill="#d0a795" opacity="0.70"/><circle cx="276.8" cy="87.6" r="0.78" fill="#dcbcb0" opacity="0.79"/><circle cx="279.2" cy="59.6" r="0.51" fill="#d6b2a2" opacity="0.78"/><circle cx="274.5" cy="102.3" r="0.55" fill="#dcbcb0" opacity="0.74"/><circle cx="293.4" cy="24.8" r="0.43" fill="#d0a795" opacity="0.67"/><circle cx="271.2" cy="118.9" r="0.52" fill="#d0a795" opacity="0.63"/><circle cx="285.6" cy="23.2" r="0.59" fill="#d0a795" opacity="0.69"/><circle cx="262.6" cy="67.0" r="0.74" fill="#dcbcb0" opacity="0.51"/><circle cx="278.5" cy="73.0" r="0.67" fill="#d0a795" opacity="0.43"/><circle cx="275.8" cy="79.9" r="0.73" fill="#d6b2a2" opacity="0.68"/><circle cx="286.8" cy="31.0" r="0.43" fill="#d6b2a2" opacity="0.45"/><circle cx="266.2" cy="116.4" r="0.77" fill="#d0a795" opacity="0.43"/><circle cx="279.6" cy="82.4" r="0.64" fill="#d0a795" opacity="0.85"/><circle cx="276.4" cy="94.2" r="0.47" fill="#d6b2a2" opacity="0.60"/><circle cx="276.8" cy="98.7" r="0.48" fill="#d0a795" opacity="0.62"/><circle cx="285.4" cy="64.9" r="0.44" fill="#d6b2a2" opacity="0.44"/><circle cx="285.5" cy="45.9" r="0.55" fill="#dcbcb0" opacity="0.73"/><circle cx="273.7" cy="111.0" r="0.64" fill="#dcbcb0" opacity="0.75"/><circle cx="286.0" cy="32.5" r="0.70" fill="#d6b2a2" opacity="0.43"/><circle cx="280.7" cy="45.1" r="0.79" fill="#d6b2a2" opacity="0.79"/><circle cx="291.2" cy="27.7" r="0.64" fill="#d6b2a2" opacity="0.50"/><circle cx="285.7" cy="56.0" r="0.68" fill="#dcbcb0" opacity="0.82"/><circle cx="255.8" cy="110.0" r="0.44" fill="#d6b2a2" opacity="0.55"/><circle cx="286.3" cy="57.1" r="0.72" fill="#d0a795" opacity="0.46"/><circle cx="289.3" cy="35.9" r="0.54" fill="#d6b2a2" opacity="0.47"/><circle cx="276.3" cy="94.1" r="0.41" fill="#d0a795" opacity="0.44"/><circle cx="267.2" cy="102.6" r="0.57" fill="#d0a795" opacity="0.74"/><circle cx="271.2" cy="104.3" r="0.44" fill="#d6b2a2" opacity="0.75"/><circle cx="284.8" cy="67.2" r="0.71" fill="#dcbcb0" opacity="0.54"/><circle cx="279.6" cy="84.4" r="0.78" fill="#d0a795" opacity="0.42"/><circle cx="278.0" cy="71.0" r="0.60" fill="#d0a795" opacity="0.66"/><circle cx="265.7" cy="116.0" r="0.59" fill="#dcbcb0" opacity="0.69"/><circle cx="271.8" cy="99.9" r="0.70" fill="#d0a795" opacity="0.62"/><circle cx="283.5" cy="67.9" r="0.66" fill="#d0a795" opacity="0.82"/><circle cx="280.1" cy="23.9" r="0.76" fill="#d6b2a2" opacity="0.69"/><circle cx="280.0" cy="35.7" r="0.69" fill="#d6b2a2" opacity="0.47"/><circle cx="285.3" cy="48.0" r="0.40" fill="#dcbcb0" opacity="0.48"/><circle cx="283.5" cy="35.6" r="0.49" fill="#d0a795" opacity="0.77"/><circle cx="277.4" cy="78.8" r="0.40" fill="#d0a795" opacity="0.79"/><circle cx="275.1" cy="103.2" r="0.53" fill="#dcbcb0" opacity="0.42"/><circle cx="272.0" cy="91.5" r="0.50" fill="#d6b2a2" opacity="0.81"/><circle cx="272.9" cy="106.3" r="0.66" fill="#dcbcb0" opacity="0.40"/><circle cx="269.1" cy="27.6" r="0.44" fill="#dcbcb0" opacity="0.48"/><circle cx="272.1" cy="112.8" r="0.53" fill="#d6b2a2" opacity="0.62"/><circle cx="281.8" cy="66.2" r="0.54" fill="#d0a795" opacity="0.79"/><circle cx="280.0" cy="76.6" r="0.80" fill="#d0a795" opacity="0.71"/><circle cx="270.7" cy="43.0" r="0.53" fill="#d6b2a2" opacity="0.82"/><circle cx="251.4" cy="63.3" r="0.63" fill="#d6b2a2" opacity="0.81"/><circle cx="289.6" cy="48.3" r="0.63" fill="#d0a795" opacity="0.66"/><circle cx="273.8" cy="110.5" r="0.63" fill="#d6b2a2" opacity="0.61"/><circle cx="279.8" cy="73.8" r="0.74" fill="#dcbcb0" opacity="0.51"/><circle cx="262.5" cy="120.4" r="0.58" fill="#d6b2a2" opacity="0.46"/><circle cx="284.0" cy="45.4" r="0.64" fill="#d0a795" opacity="0.66"/><circle cx="261.0" cy="66.6" r="0.67" fill="#d6b2a2" opacity="0.48"/><circle cx="274.2" cy="99.6" r="0.57" fill="#d0a795" opacity="0.62"/><circle cx="282.3" cy="61.3" r="0.56" fill="#dcbcb0" opacity="0.70"/><circle cx="271.8" cy="116.8" r="0.74" fill="#d0a795" opacity="0.63"/><circle cx="291.8" cy="38.9" r="0.66" fill="#d6b2a2" opacity="0.60"/><circle cx="271.9" cy="89.4" r="0.74" fill="#d0a795" opacity="0.75"/><circle cx="282.5" cy="76.2" r="0.53" fill="#d6b2a2" opacity="0.58"/><circle cx="282.3" cy="44.3" r="0.44" fill="#d6b2a2" opacity="0.70"/><circle cx="274.0" cy="107.7" r="0.77" fill="#d0a795" opacity="0.64"/><circle cx="278.0" cy="67.6" r="0.76" fill="#d0a795" opacity="0.82"/><circle cx="280.2" cy="41.0" r="0.66" fill="#d0a795" opacity="0.64"/><circle cx="293.5" cy="26.4" r="0.58" fill="#dcbcb0" opacity="0.52"/><circle cx="290.5" cy="42.8" r="0.80" fill="#d0a795" opacity="0.70"/><circle cx="264.6" cy="122.9" r="0.78" fill="#d0a795" opacity="0.42"/><circle cx="288.3" cy="52.8" r="0.59" fill="#d0a795" opacity="0.55"/><circle cx="279.2" cy="87.4" r="0.57" fill="#d6b2a2" opacity="0.42"/><circle cx="268.7" cy="108.6" r="0.70" fill="#d6b2a2" opacity="0.54"/><circle cx="281.9" cy="78.6" r="0.50" fill="#dcbcb0" opacity="0.70"/><circle cx="292.2" cy="26.7" r="0.71" fill="#dcbcb0" opacity="0.52"/><circle cx="264.2" cy="104.7" r="0.72" fill="#d0a795" opacity="0.70"/><circle cx="272.2" cy="91.7" r="0.50" fill="#d0a795" opacity="0.72"/><circle cx="271.8" cy="110.5" r="0.69" fill="#d6b2a2" opacity="0.70"/><circle cx="265.1" cy="89.4" r="0.74" fill="#d0a795" opacity="0.57"/><circle cx="272.9" cy="113.3" r="0.75" fill="#d6b2a2" opacity="0.45"/><circle cx="279.2" cy="60.2" r="0.59" fill="#d0a795" opacity="0.41"/><circle cx="281.1" cy="81.2" r="0.47" fill="#dcbcb0" opacity="0.66"/><circle cx="282.9" cy="73.1" r="0.57" fill="#dcbcb0" opacity="0.61"/><circle cx="279.8" cy="84.8" r="0.42" fill="#d0a795" opacity="0.84"/><circle cx="270.1" cy="119.1" r="0.63" fill="#d6b2a2" opacity="0.75"/><circle cx="275.4" cy="104.6" r="0.52" fill="#d6b2a2" opacity="0.57"/><circle cx="272.0" cy="63.7" r="0.72" fill="#d6b2a2" opacity="0.70"/><circle cx="270.3" cy="117.5" r="0.51" fill="#d6b2a2" opacity="0.69"/><circle cx="289.1" cy="32.2" r="0.46" fill="#dcbcb0" opacity="0.51"/><circle cx="292.1" cy="25.2" r="0.49" fill="#d6b2a2" opacity="0.74"/><circle cx="264.9" cy="122.7" r="0.60" fill="#d0a795" opacity="0.83"/><circle cx="274.1" cy="61.0" r="0.45" fill="#dcbcb0" opacity="0.56"/><circle cx="275.7" cy="94.5" r="0.48" fill="#d0a795" opacity="0.85"/><circle cx="281.0" cy="57.1" r="0.44" fill="#d6b2a2" opacity="0.43"/><circle cx="270.4" cy="106.4" r="0.71" fill="#d0a795" opacity="0.52"/><circle cx="278.4" cy="79.3" r="0.50" fill="#d6b2a2" opacity="0.61"/><circle cx="276.9" cy="77.1" r="0.53" fill="#d0a795" opacity="0.70"/><circle cx="283.3" cy="66.0" r="0.59" fill="#dcbcb0" opacity="0.63"/><circle cx="279.1" cy="39.1" r="0.50" fill="#d0a795" opacity="0.73"/><circle cx="251.8" cy="115.0" r="0.79" fill="#d6b2a2" opacity="0.77"/><circle cx="277.5" cy="68.6" r="0.49" fill="#dcbcb0" opacity="0.51"/><circle cx="267.6" cy="98.9" r="0.75" fill="#dcbcb0" opacity="0.66"/><circle cx="267.9" cy="91.9" r="0.47" fill="#d6b2a2" opacity="0.61"/><circle cx="273.0" cy="110.3" r="0.71" fill="#dcbcb0" opacity="0.81"/><circle cx="266.3" cy="28.0" r="0.57" fill="#dcbcb0" opacity="0.57"/><circle cx="263.8" cy="116.6" r="0.68" fill="#d6b2a2" opacity="0.71"/><circle cx="278.0" cy="60.9" r="0.54" fill="#d0a795" opacity="0.44"/><circle cx="274.9" cy="76.3" r="0.47" fill="#d0a795" opacity="0.70"/><circle cx="271.7" cy="116.3" r="0.71" fill="#d6b2a2" opacity="0.51"/><circle cx="290.0" cy="38.3" r="0.71" fill="#d0a795" opacity="0.74"/><circle cx="286.3" cy="30.4" r="0.45" fill="#dcbcb0" opacity="0.70"/><circle cx="262.9" cy="94.2" r="0.46" fill="#dcbcb0" opacity="0.79"/><circle cx="291.7" cy="38.1" r="0.49" fill="#dcbcb0" opacity="0.52"/><circle cx="267.1" cy="100.0" r="0.53" fill="#d6b2a2" opacity="0.53"/><circle cx="275.0" cy="98.1" r="0.64" fill="#d6b2a2" opacity="0.64"/><circle cx="270.0" cy="100.4" r="0.65" fill="#d6b2a2" opacity="0.47"/><circle cx="273.1" cy="103.9" r="0.65" fill="#d0a795" opacity="0.75"/><circle cx="280.3" cy="36.8" r="0.46" fill="#dcbcb0" opacity="0.78"/><circle cx="291.3" cy="23.7" r="0.73" fill="#dcbcb0" opacity="0.72"/><circle cx="279.0" cy="86.7" r="0.70" fill="#d6b2a2" opacity="0.55"/><circle cx="267.3" cy="117.2" r="0.43" fill="#d6b2a2" opacity="0.50"/><circle cx="292.6" cy="30.5" r="0.56" fill="#d6b2a2" opacity="0.45"/><circle cx="267.8" cy="117.2" r="0.55" fill="#dcbcb0" opacity="0.69"/><circle cx="289.2" cy="29.2" r="0.53" fill="#dcbcb0" opacity="0.79"/><circle cx="285.6" cy="58.4" r="0.44" fill="#d0a795" opacity="0.75"/><circle cx="273.8" cy="70.0" r="0.51" fill="#d6b2a2" opacity="0.80"/><circle cx="254.5" cy="117.6" r="0.73" fill="#d0a795" opacity="0.57"/><circle cx="293.3" cy="28.7" r="0.63" fill="#d0a795" opacity="0.55"/><circle cx="263.0" cy="88.4" r="0.69" fill="#d6b2a2" opacity="0.62"/><circle cx="292.6" cy="28.7" r="0.74" fill="#d0a795" opacity="0.56"/><circle cx="287.4" cy="38.2" r="0.53" fill="#dcbcb0" opacity="0.43"/><circle cx="282.0" cy="61.8" r="0.54" fill="#d0a795" opacity="0.61"/><circle cx="268.7" cy="71.8" r="0.61" fill="#d6b2a2" opacity="0.76"/><circle cx="283.0" cy="27.3" r="0.52" fill="#d0a795" opacity="0.72"/><circle cx="264.6" cy="96.8" r="0.47" fill="#d0a795" opacity="0.70"/><circle cx="280.2" cy="49.3" r="0.61" fill="#dcbcb0" opacity="0.65"/><circle cx="268.5" cy="118.4" r="0.48" fill="#d0a795" opacity="0.82"/><circle cx="277.8" cy="91.1" r="0.50" fill="#d0a795" opacity="0.41"/><circle cx="262.7" cy="116.0" r="0.74" fill="#d6b2a2" opacity="0.83"/><circle cx="287.7" cy="36.3" r="0.55" fill="#dcbcb0" opacity="0.47"/><circle cx="282.9" cy="43.8" r="0.41" fill="#d6b2a2" opacity="0.70"/><circle cx="276.1" cy="95.3" r="0.45" fill="#d6b2a2" opacity="0.43"/><circle cx="292.1" cy="21.7" r="0.57" fill="#dcbcb0" opacity="0.46"/><circle cx="286.5" cy="40.8" r="0.62" fill="#dcbcb0" opacity="0.55"/><circle cx="286.9" cy="48.9" r="0.50" fill="#d0a795" opacity="0.58"/><circle cx="284.4" cy="59.7" r="0.67" fill="#dcbcb0" opacity="0.50"/><circle cx="282.1" cy="70.4" r="0.52" fill="#d6b2a2" opacity="0.78"/><circle cx="262.6" cy="104.4" r="0.76" fill="#d6b2a2" opacity="0.74"/></g>
<path d="M293 20 L307 20 L281 123 L267 123 Z" fill="#f1e2e4" filter="url(#nzC)" opacity="0.4"/>
<rect x="248" y="20" width="50" height="102" fill="#e3cbc6" filter="url(#nzC)" opacity="0.3"/>
<circle cx="257.5" cy="23" r="1" fill="#a89aa8" opacity="0.8"/>
<circle cx="345" cy="27.5" r="2" fill="#a99a98" filter="url(#b05)" opacity="0.6"/>
<rect x="321.7" y="87" width="29.8" height="34.8" fill="#fdfafa" stroke="#a09a9d" stroke-width="1"/>
<path d="M326.5 96 C327.5 91.5 333 89.5 337 91 C343 93.5 347.5 100 347 106 C346.5 112 341 118.5 335 118 C329.5 116.5 325.5 104 326.5 96 Z" fill="#eee0ee" filter="url(#b1)"/>
<path d="M332.5 99 C336 96 341 98 346 105.5 C344.5 110.5 340 114.5 334.5 114.5 C331.5 111.5 331 103.5 332.5 99 Z" fill="#e6c0ae" filter="url(#b1)"/>
<path d="M336 101 C339 100 342 102.5 344.5 105.5 C343 109.5 340 112 337 112 C335.5 109 335.2 104 336 101 Z" fill="#d7a188" filter="url(#b1)" opacity="0.9"/>
<path d="M329 96 C331 93.5 334 92.5 337 93.5" stroke="#c3bde6" stroke-width="1.4" fill="none" filter="url(#b05)" opacity="0.8"/>
<path d="M328 99 C328 103 329 107 331 111" stroke="#dccbe8" stroke-width="1.2" fill="none" filter="url(#b05)" opacity="0.8"/>
<path d="M248.4 118.4 V119.6 M278.9 118.4 V119.6" stroke="#2a2020" stroke-width="0.7"/>
<rect x="248.2" y="118.7" width="30.9" height="0.75" fill="#2a2020"/>
<g fill="#4a3c3c" opacity="0.8"><rect x="248.6" y="121.4" width="0.8" height="1.1"/><rect x="252.6" y="121.4" width="2.6" height="1.1"/><rect x="259" y="121.4" width="2.6" height="1.1"/><rect x="265" y="121.4" width="2.6" height="1.1"/><rect x="271" y="121.4" width="2.6" height="1.1"/><rect x="277.4" y="121.4" width="4.4" height="1.1"/></g>
</g>
<text x="4.1" y="12.7" font-size="14.6" text-anchor="start" font-weight="bold" style="stroke-width:0.45px">A</text>
<text x="398.4" y="12.7" font-size="14.6" text-anchor="start" font-weight="bold" style="stroke-width:0.45px">B</text>
<text x="63.7" y="15.8" font-size="10">GBM-1 (GLN<tspan font-size="6" dy="-3.6" stroke-width="0.05">High</tspan><tspan dy="3.6">)</tspan></text>
<text x="257.5" y="15.8" font-size="10">GBM-10 (GLN<tspan font-size="6" dy="-3.6" stroke-width="0.05">Low</tspan><tspan dy="3.6">)</tspan></text>
<text x="442.6" y="12.7" font-size="10">GBM-1 (GLN<tspan font-size="6" dy="-3.6" stroke-width="0.05">High</tspan><tspan dy="3.6">)</tspan></text>
<g stroke="#000" stroke-width="1.4" fill="none">
<path d="M453.6 25.60 V129.5 M452.90000000000003 129.5 H520"/>
<path d="M449.4 129.50 H453.6"/>
<path d="M449.4 103.70 H453.6"/>
<path d="M449.4 77.90 H453.6"/>
<path d="M449.4 52.10 H453.6"/>
<path d="M449.4 26.30 H453.6"/>
<path d="M470.2 129.5 V133.3 M503.6 129.5 V133.3"/>
<path d="M470.2 63.19 V51.3 M464 51.3 H476.5"/>
<path d="M503.6 103.70 V95.6 M498.2 95.6 H509"/>
</g>
<rect x="458.5" y="63.45" width="23.2" height="66.05" fill="#000"/>
<rect x="493" y="104.56" width="21.3" height="24.94" fill="#ebebeb" stroke="#000" stroke-width="1.3"/>
<path d="M472.7 43.3 H504.5" stroke="#000" stroke-width="1.3"/>
<text x="488.7" y="36.6" font-size="7.5" text-anchor="middle" font-weight="normal" >*</text>
<text x="446.8" y="133.1" font-size="10" text-anchor="end" font-weight="normal" >0</text>
<text x="446.8" y="107.3" font-size="10" text-anchor="end" font-weight="normal" >10</text>
<text x="446.8" y="81.5" font-size="10" text-anchor="end" font-weight="normal" >20</text>
<text x="446.8" y="55.7" font-size="10" text-anchor="end" font-weight="normal" >30</text>
<text x="446.8" y="29.9" font-size="10" text-anchor="end" font-weight="normal" >40</text>
<text x="468.6" y="144.7" font-size="10" text-anchor="middle" font-weight="normal" >CTR</text>
<text x="501.8" y="144.7" font-size="10" text-anchor="middle" font-weight="normal" >EGCG</text>
<path d="M459.3 149.8 H513.3" stroke="#000" stroke-width="1.2"/>
<text x="484.8" y="161.2" font-size="10" text-anchor="middle" font-weight="normal" >Tumor</text>
<text transform="translate(411.7 97.4) rotate(-90)" font-size="9.3">ΔOCR<tspan font-size="5.3" dy="1.9" dx="0.3" stroke-width="0.05">GLN</tspan></text>
<text transform="translate(427.1 77.2) rotate(-90)" font-size="10" text-anchor="middle">(pmoles/min/40,000 cells)</text>
<g stroke="#000" stroke-width="1.4" fill="none">
<path d="M36.0 140.70000000000002 V243.3 M35.3 243.3 H183.1"/>
<path d="M32.8 243.30 H36.0"/>
<path d="M32.8 222.92 H36.0"/>
<path d="M32.8 202.54 H36.0"/>
<path d="M32.8 182.16 H36.0"/>
<path d="M32.8 161.78 H36.0"/>
<path d="M32.8 141.40 H36.0"/>
<path d="M36.00 243.3 V245.5"/>
<path d="M84.64 243.3 V245.5"/>
<path d="M133.28 243.3 V245.5"/>
<path d="M181.92 243.3 V245.5"/>
</g>
<text x="31.2" y="246.9" font-size="10" text-anchor="end" font-weight="normal" >0</text>
<text x="31.2" y="226.52" font-size="10" text-anchor="end" font-weight="normal" >20</text>
<text x="31.2" y="206.14" font-size="10" text-anchor="end" font-weight="normal" >40</text>
<text x="31.2" y="185.76" font-size="10" text-anchor="end" font-weight="normal" >60</text>
<text x="31.2" y="165.38" font-size="10" text-anchor="end" font-weight="normal" >80</text>
<text x="31.2" y="145.0" font-size="10" text-anchor="end" font-weight="normal" >100</text>
<text x="36.6" y="257.2" font-size="10" text-anchor="middle" font-weight="normal" >0</text>
<text x="85.2" y="257.2" font-size="10" text-anchor="middle" font-weight="normal" >20</text>
<text x="133.9" y="257.2" font-size="10" text-anchor="middle" font-weight="normal" >40</text>
<text x="182.5" y="257.2" font-size="10" text-anchor="middle" font-weight="normal" >60</text>
<text transform="translate(9.0 195) rotate(-90)" font-size="10" text-anchor="middle">Percent survival</text>
<text x="40.3" y="272.3" font-size="10" text-anchor="start" font-weight="normal" >Days after tumor transplantation</text>
<g stroke="#000" stroke-width="1.4" fill="none">
<path d="M236.9 139.3 V242.1 M236.20000000000002 242.1 H384.1"/>
<path d="M233.70000000000002 242.10 H236.9"/>
<path d="M233.70000000000002 221.68 H236.9"/>
<path d="M233.70000000000002 201.26 H236.9"/>
<path d="M233.70000000000002 180.84 H236.9"/>
<path d="M233.70000000000002 160.42 H236.9"/>
<path d="M233.70000000000002 140.00 H236.9"/>
<path d="M236.90 242.1 V244.29999999999998"/>
<path d="M285.56 242.1 V244.29999999999998"/>
<path d="M334.22 242.1 V244.29999999999998"/>
<path d="M382.88 242.1 V244.29999999999998"/>
</g>
<text x="232.1" y="245.7" font-size="10" text-anchor="end" font-weight="normal" >0</text>
<text x="232.1" y="225.28" font-size="10" text-anchor="end" font-weight="normal" >20</text>
<text x="232.1" y="204.86" font-size="10" text-anchor="end" font-weight="normal" >40</text>
<text x="232.1" y="184.44" font-size="10" text-anchor="end" font-weight="normal" >60</text>
<text x="232.1" y="164.02" font-size="10" text-anchor="end" font-weight="normal" >80</text>
<text x="232.1" y="143.6" font-size="10" text-anchor="end" font-weight="normal" >100</text>
<text x="237.5" y="256.0" font-size="10" text-anchor="middle" font-weight="normal" >0</text>
<text x="286.2" y="256.0" font-size="10" text-anchor="middle" font-weight="normal" >20</text>
<text x="334.8" y="256.0" font-size="10" text-anchor="middle" font-weight="normal" >40</text>
<text x="383.5" y="256.0" font-size="10" text-anchor="middle" font-weight="normal" >60</text>
<text transform="translate(209.6 192.2) rotate(-90)" font-size="10" text-anchor="middle">Percent survival</text>
<text x="241.2" y="272.3" font-size="10" text-anchor="start" font-weight="normal" >Days after tumor transplantation</text>
<path d="M98.9 141.2 L110.5 141.2 L110.5 155.8 L111.7 155.8 L111.7 170.4 L114.5 170.4 L114.5 177.7 L119 177.7 L119 185 L121.5 185 L121.5 192.3 L124.4 192.3 L124.4 206.8 L126.5 206.8 L126.5 214.1 L133.6 214.1 L133.6 221.4 L150.6 221.4 L150.6 228.7 L180 228.7 L180 236" fill="none" stroke="#1b30c2" stroke-width="1.25" stroke-dasharray="1.25 3.1"/>
<path d="M91.2 141.2 L98.6 141.2 L98.6 157.3 L101 157.3 L101 209.2 L103 209.2 L103 226.6 L112.3 226.6 L112.3 243.3" fill="none" stroke="#e8361a" stroke-width="1.4"/>
<path d="M35.8 141.2 L91.2 141.2 L91.2 147.2 L98.3 147.2 L98.3 153.8 L102.8 153.8 L102.8 160.6 L106.9 160.6 L106.9 166.5 L107.8 166.5 L107.8 179.5 L110.5 179.5 L110.5 211.3 L113.2 211.3 L113.2 230.7 L119.6 230.7 L119.6 236.8 L122.9 236.8 L122.9 243.3" fill="none" stroke="#000" stroke-width="1.4"/>
<circle cx="89.6" cy="147.5" r="1.7" fill="#000"/>
<circle cx="97.4" cy="153.8" r="1.7" fill="#000"/>
<circle cx="101.8" cy="160.6" r="1.7" fill="#000"/>
<circle cx="105.0" cy="166.5" r="1.7" fill="#000"/>
<circle cx="106.9" cy="179.5" r="1.7" fill="#000"/>
<circle cx="109.1" cy="211.3" r="1.7" fill="#000"/>
<circle cx="111.7" cy="230.7" r="1.7" fill="#000"/>
<circle cx="119.0" cy="236.8" r="1.7" fill="#000"/>
<path d="M97.8 154.4 L100.6 159.4 L95.0 159.4 Z" fill="#e8361a"/>
<path d="M100.5 206.3 L103.3 211.3 L97.7 211.3 Z" fill="#e8361a"/>
<path d="M102.0 223.7 L104.8 228.7 L99.2 228.7 Z" fill="#e8361a"/>
<path d="M111.4 240.1 L114.2 245.1 L108.6 245.1 Z" fill="#e8361a"/>
<circle cx="109.5" cy="155.8" r="2.2" fill="#fff" stroke="#1b30c2" stroke-width="1.5"/>
<circle cx="111.7" cy="170.4" r="2.2" fill="#fff" stroke="#1b30c2" stroke-width="1.5"/>
<circle cx="114.5" cy="177.7" r="2.2" fill="#fff" stroke="#1b30c2" stroke-width="1.5"/>
<circle cx="119.0" cy="185.0" r="2.2" fill="#fff" stroke="#1b30c2" stroke-width="1.5"/>
<circle cx="121.5" cy="192.3" r="2.2" fill="#fff" stroke="#1b30c2" stroke-width="1.5"/>
<circle cx="124.4" cy="206.8" r="2.2" fill="#fff" stroke="#1b30c2" stroke-width="1.5"/>
<circle cx="126.5" cy="214.1" r="2.2" fill="#fff" stroke="#1b30c2" stroke-width="1.5"/>
<circle cx="133.6" cy="221.4" r="2.2" fill="#fff" stroke="#1b30c2" stroke-width="1.5"/>
<circle cx="150.6" cy="228.7" r="2.2" fill="#fff" stroke="#1b30c2" stroke-width="1.5"/>
<circle cx="180.0" cy="236.0" r="2.2" fill="#fff" stroke="#1b30c2" stroke-width="1.5"/>
<path d="M123 144.4 H137" stroke="#000" stroke-width="1.4"/><circle cx="130.0" cy="144.4" r="1.7" fill="#000"/>
<path d="M123 158 H137" stroke="#1b30c2" stroke-width="1.25" stroke-dasharray="1.25 3.1"/><circle cx="130.0" cy="158.0" r="2.2" fill="#fff" stroke="#1b30c2" stroke-width="1.5"/>
<path d="M123 173 H137" stroke="#e8361a" stroke-width="1.4"/><path d="M130.0 170.1 L132.8 175.1 L127.2 175.1 Z" fill="#e8361a"/>
<text x="141.6" y="147.2" font-size="10" text-anchor="start" font-weight="normal" >none</text>
<text x="141.6" y="161.2" font-size="10" text-anchor="start" font-weight="normal" >EGCG</text>
<text x="141.6" y="176.2" font-size="10" text-anchor="start" font-weight="normal" >2-DG</text>
<path d="M173.4 144 V161.2" stroke="#000" stroke-width="1.3"/>
<text x="176.4" y="156.4" font-size="8" text-anchor="start" font-weight="normal" letter-spacing="0.4">**</text>
<path d="M346.4 140 L346.4 159.7 L351.2 159.7 L351.2 180 L368.6 180 L368.6 200.9 L370.8 200.9 L370.8 221.4 L373.6 221.4 L373.6 241.8" fill="none" stroke="#1b30c2" stroke-width="1.25" stroke-dasharray="1.25 3.1"/>
<path d="M237 140 L369.3 140 L369.3 159.7 L373.6 159.7 L373.6 180 L381.3 180 L381.3 221.2 L383 221.2 L383 241.8" fill="none" stroke="#000" stroke-width="1.4"/>
<path d="M356.6 140 L356.6 157 L366.6 157 L366.6 173.6 L368.2 173.6 L368.2 190 L373 190 L373 225 L381.3 225 L381.3 241.8" fill="none" stroke="#e8361a" stroke-width="1.4"/>
<circle cx="368.8" cy="159.7" r="1.7" fill="#000"/>
<circle cx="373.6" cy="180.0" r="1.7" fill="#000"/>
<circle cx="381.3" cy="221.2" r="1.7" fill="#000"/>
<path d="M356.2 154.1 L359.0 159.1 L353.4 159.1 Z" fill="#e8361a"/>
<path d="M366.6 170.7 L369.4 175.7 L363.8 175.7 Z" fill="#e8361a"/>
<path d="M369.6 187.1 L372.4 192.1 L366.8 192.1 Z" fill="#e8361a"/>
<path d="M373.0 222.1 L375.8 227.1 L370.2 227.1 Z" fill="#e8361a"/>
<circle cx="346.4" cy="159.7" r="2.2" fill="#fff" stroke="#1b30c2" stroke-width="1.5"/>
<circle cx="351.2" cy="180.0" r="2.2" fill="#fff" stroke="#1b30c2" stroke-width="1.5"/>
<circle cx="368.8" cy="200.9" r="2.2" fill="#fff" stroke="#1b30c2" stroke-width="1.5"/>
<circle cx="370.8" cy="221.4" r="2.2" fill="#fff" stroke="#1b30c2" stroke-width="1.5"/>
<circle cx="373.6" cy="241.8" r="2.2" fill="#fff" stroke="#1b30c2" stroke-width="1.5"/>
<path d="M247.4 196.6 H261" stroke="#000" stroke-width="1.4"/><circle cx="254.2" cy="196.6" r="1.7" fill="#000"/>
<path d="M247.4 211.6 H261" stroke="#1b30c2" stroke-width="1.25" stroke-dasharray="1.25 3.1"/><circle cx="254.2" cy="211.6" r="2.2" fill="#fff" stroke="#1b30c2" stroke-width="1.5"/>
<path d="M247.4 227.4 H261" stroke="#e8361a" stroke-width="1.4"/><path d="M254.2 224.5 L257.0 229.5 L251.4 229.5 Z" fill="#e8361a"/>
<text x="269" y="199.5" font-size="10" text-anchor="start" font-weight="normal" >none</text>
<text x="269" y="214.2" font-size="10" text-anchor="start" font-weight="normal" >EGCG</text>
<text x="269" y="229.6" font-size="10" text-anchor="start" font-weight="normal" >2-DG</text>
</svg>
</body></html>
